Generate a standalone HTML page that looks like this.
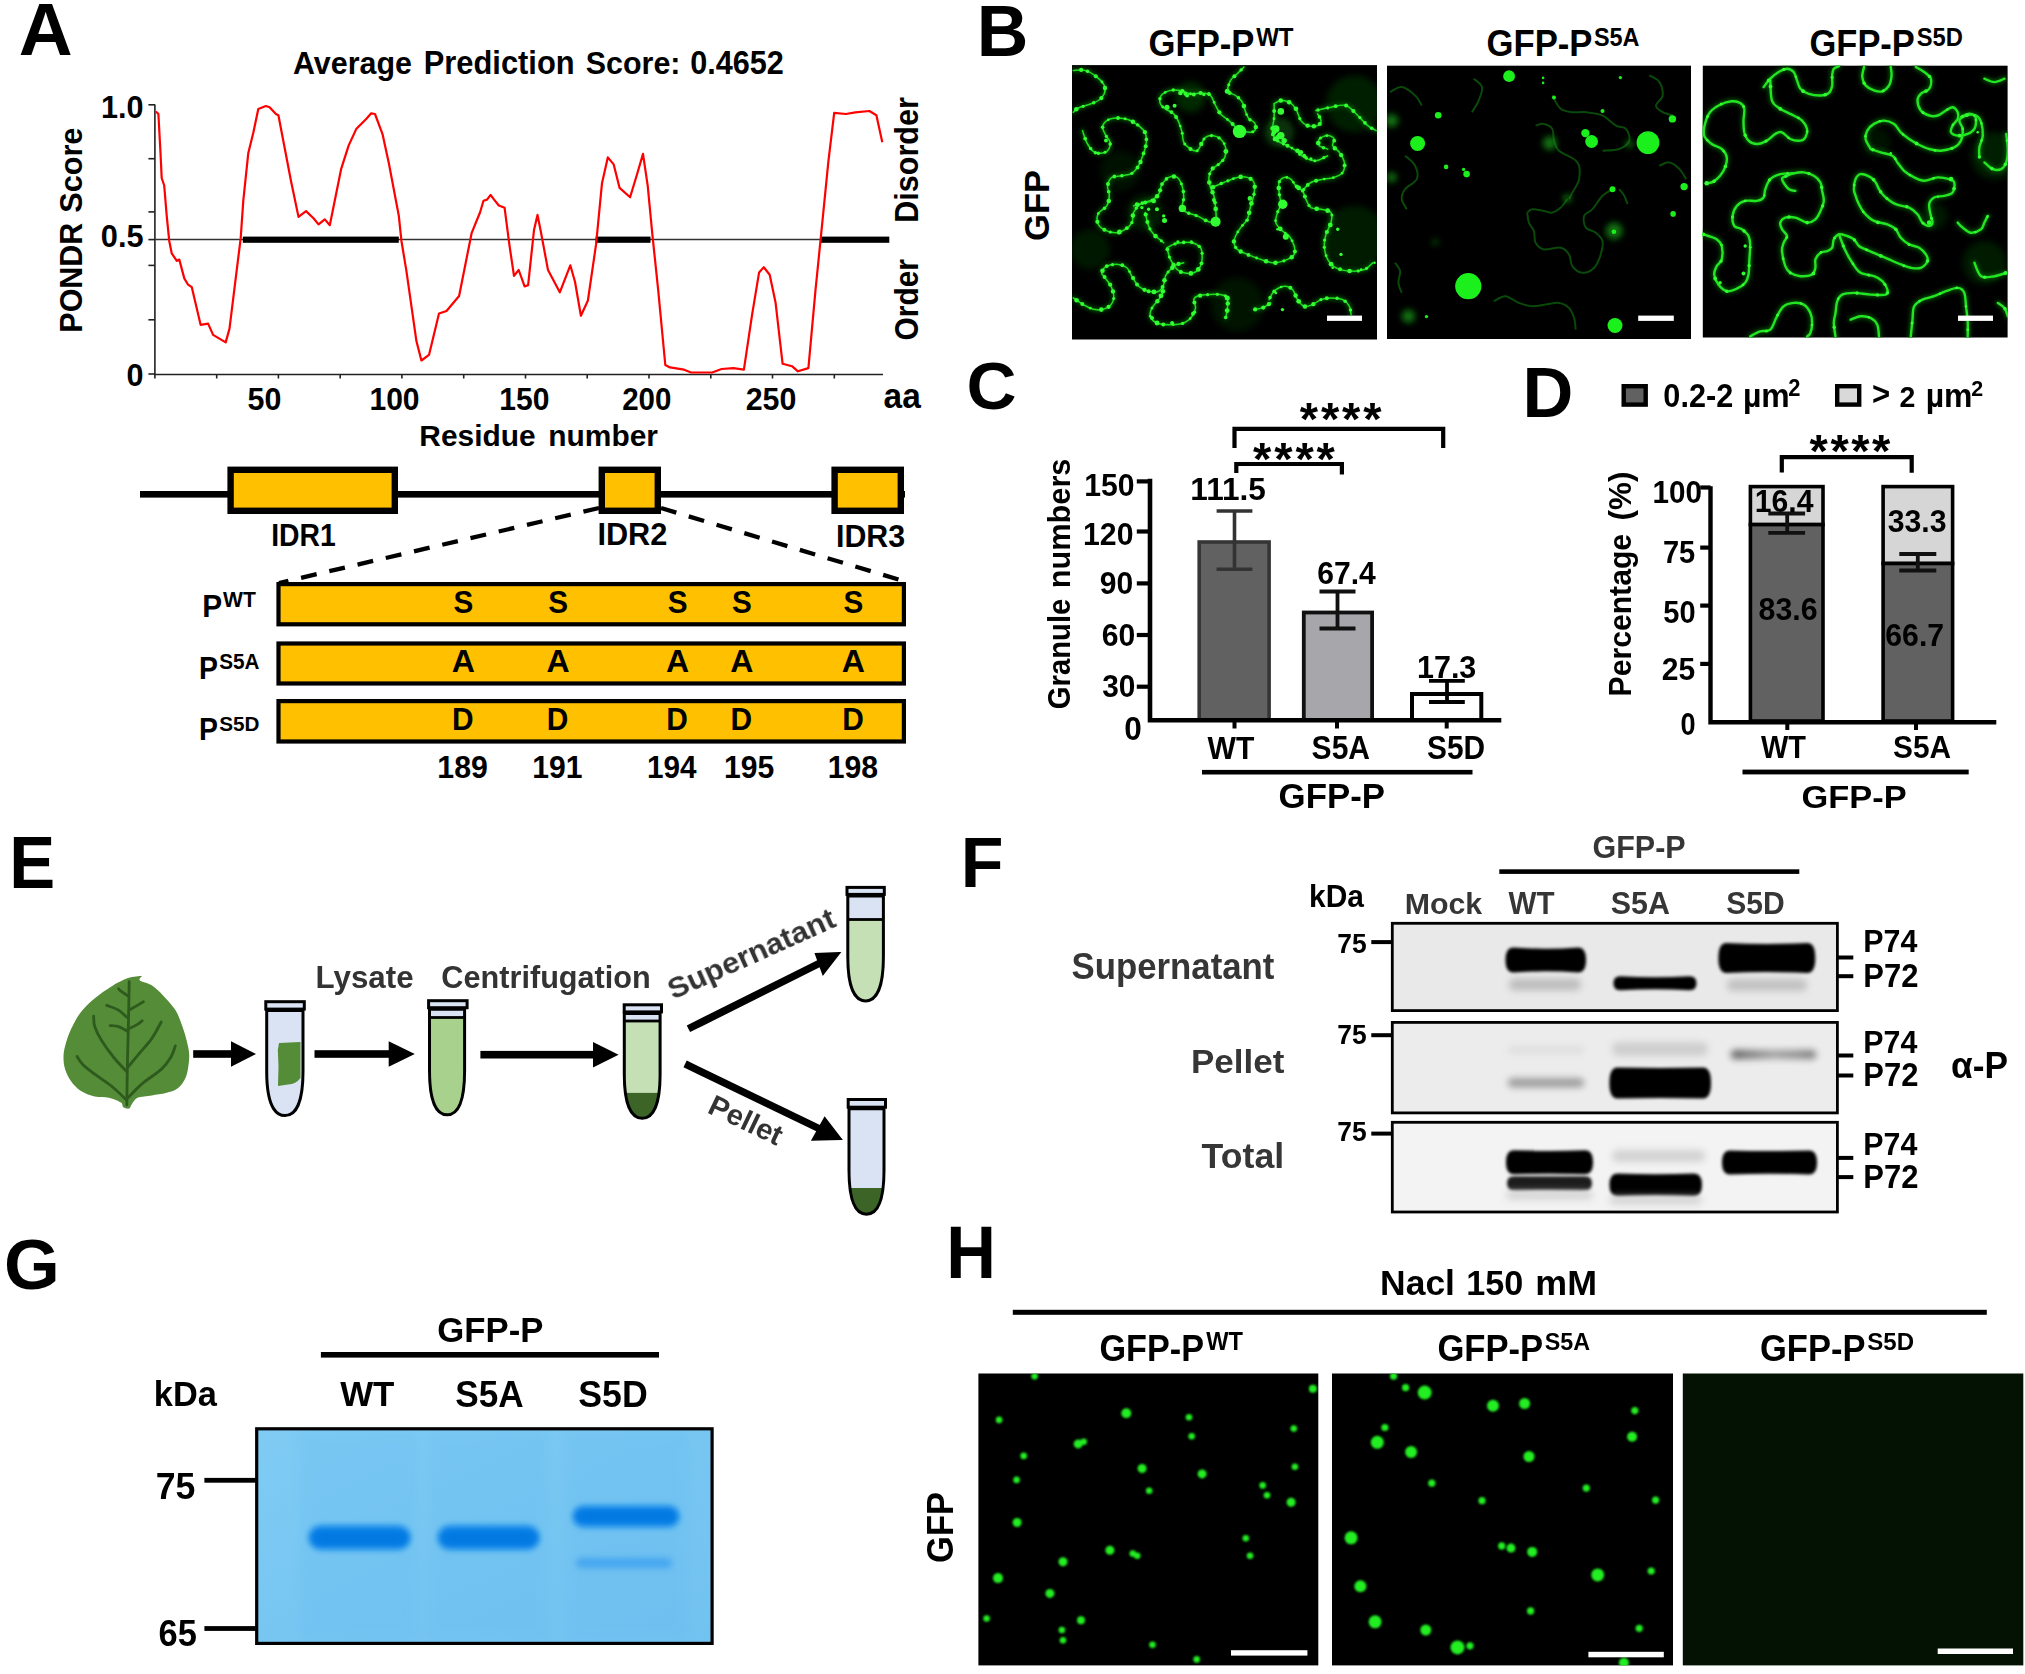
<!DOCTYPE html>
<html><head><meta charset="utf-8"><style>
html,body{margin:0;padding:0;background:#fff;}
body{width:2025px;height:1674px;overflow:hidden;}
svg{display:block;}
svg text{font-family:"Liberation Sans",sans-serif;}
</style></head><body>
<svg width="2025" height="1674" viewBox="0 0 2025 1674">
<rect width="2025" height="1674" fill="#fff"/>
<text x="18.83" y="55.00" font-size="74.20" font-weight="bold" fill="#000" textLength="53.89" lengthAdjust="spacingAndGlyphs">A</text>
<text x="293.04" y="74.00" font-size="32.24" font-weight="bold" fill="#000" textLength="118.92" lengthAdjust="spacingAndGlyphs">Average</text>
<text x="423.69" y="74.00" font-size="32.72" font-weight="bold" fill="#000" textLength="150.95" lengthAdjust="spacingAndGlyphs">Prediction</text>
<text x="585.79" y="74.00" font-size="32.24" font-weight="bold" fill="#000" textLength="94.68" lengthAdjust="spacingAndGlyphs">Score:</text>
<text x="690.17" y="74.00" font-size="32.48" font-weight="bold" fill="#000" textLength="93.71" lengthAdjust="spacingAndGlyphs">0.4652</text>
<text x="100.91" y="118.30" font-size="32.00" font-weight="bold" fill="#000" textLength="42.52" lengthAdjust="spacingAndGlyphs">1.0</text>
<text x="100.87" y="246.50" font-size="32.14" font-weight="bold" fill="#000" textLength="42.70" lengthAdjust="spacingAndGlyphs">0.5</text>
<text x="126.48" y="385.50" font-size="32.14" font-weight="bold" fill="#000" textLength="16.98" lengthAdjust="spacingAndGlyphs">0</text>
<text x="247.49" y="409.50" font-size="31.71" font-weight="bold" fill="#000" textLength="33.80" lengthAdjust="spacingAndGlyphs">50</text>
<text x="369.45" y="409.50" font-size="31.71" font-weight="bold" fill="#000" textLength="50.16" lengthAdjust="spacingAndGlyphs">100</text>
<text x="499.25" y="409.50" font-size="31.71" font-weight="bold" fill="#000" textLength="50.16" lengthAdjust="spacingAndGlyphs">150</text>
<text x="622.17" y="409.50" font-size="31.71" font-weight="bold" fill="#000" textLength="49.22" lengthAdjust="spacingAndGlyphs">200</text>
<text x="745.64" y="409.50" font-size="31.71" font-weight="bold" fill="#000" textLength="50.69" lengthAdjust="spacingAndGlyphs">250</text>
<text x="883.60" y="408.40" font-size="35.40" font-weight="bold" fill="#000" textLength="37.15" lengthAdjust="spacingAndGlyphs">aa</text>
<text x="419.36" y="445.60" font-size="30.21" font-weight="bold" fill="#000" textLength="116.19" lengthAdjust="spacingAndGlyphs">Residue</text>
<text x="548.26" y="445.60" font-size="30.21" font-weight="bold" fill="#000" textLength="109.70" lengthAdjust="spacingAndGlyphs">number</text>
<text transform="translate(82.10 330.70) rotate(-90)" x="-1.98" y="0" font-size="31.30" font-weight="bold" fill="#000" textLength="110.03" lengthAdjust="spacingAndGlyphs">PONDR</text>
<text transform="translate(82.10 211.90) rotate(-90)" x="-0.92" y="0" font-size="31.30" font-weight="bold" fill="#000" textLength="85.17" lengthAdjust="spacingAndGlyphs">Score</text>
<text transform="translate(918.20 220.70) rotate(-90)" x="-1.98" y="0" font-size="32.61" font-weight="bold" fill="#000" textLength="125.46" lengthAdjust="spacingAndGlyphs">Disorder</text>
<text transform="translate(918.20 339.20) rotate(-90)" x="-1.19" y="0" font-size="32.61" font-weight="bold" fill="#000" textLength="81.29" lengthAdjust="spacingAndGlyphs">Order</text>
<g stroke="#222" stroke-width="1.6" fill="none">
<path d="M154.9 104.5 V374.5 H883"/>
<path d="M148.4 104.8 H155"/>
<path d="M148.4 158.7 H155"/>
<path d="M148.4 211.9 H155"/>
<path d="M148.4 239.6 H155"/>
<path d="M148.4 265.4 H155"/>
<path d="M148.4 319.8 H155"/>
<path d="M148.4 374 H155"/>
<path d="M216.7 374 V378.5"/>
<path d="M278.4 374 V378.5"/>
<path d="M340.2 374 V378.5"/>
<path d="M401.9 374 V378.5"/>
<path d="M463.7 374 V378.5"/>
<path d="M525.5 374 V378.5"/>
<path d="M587.2 374 V378.5"/>
<path d="M649.0 374 V378.5"/>
<path d="M710.8 374 V378.5"/>
<path d="M772.5 374 V378.5"/>
<path d="M834.3 374 V378.5"/>
<path d="M154.9 374 V378.5"/>
</g>
<path d="M155 239.5 H888" stroke="#333" stroke-width="1.3"/>
<rect x="242.8" y="236.6" width="156.0" height="6.2" fill="#000"/>
<rect x="595.6" y="236.6" width="54.9" height="6.2" fill="#000"/>
<rect x="820.6" y="236.6" width="68.7" height="6.2" fill="#000"/>
<polyline fill="none" stroke="#ff0000" stroke-width="2.2" stroke-linejoin="round" points="155.9,111.5 158.4,114 160.5,153 161.7,178 164.2,185.5 166.7,215.7 169.2,240.7 171.7,253.3 176.8,260.8 179.3,259.6 184.3,278.4 188.1,284.7 191.8,287.2 200.6,324.8 208.1,323.6 213.1,334.9 225.7,342.4 229.5,328.6 235.7,278.4 240.7,238.2 243.3,200.6 248.3,152.9 253.3,132.8 258.3,109 265.8,106 269.6,107.3 275.9,114 278.4,115.3 290.9,180.5 298.5,216.9 306,211.1 313.5,218.2 318.5,224.4 324.8,219.4 329.8,225.2 341.1,169.2 348.7,145.4 356.2,129.1 366.2,119 371.2,113.3 375,114 382.5,134.1 388.8,163 398.8,215.7 401.4,240.7 406.4,270.9 416.4,341.1 421.4,360.5 429,354.9 439,313.5 446.5,311 459.1,296 471.6,233.2 480,212.5 483.5,200.8 487,199.6 490.6,195 494.1,199.6 498.8,205.5 504.6,207.8 509.3,244.2 514,275.9 518.7,270 524.6,286.4 528.1,285.3 534,230.1 537.5,214.9 541,232.5 548,270 559.8,292.3 570.3,265.3 575,281.7 580.9,315.7 587.9,300.5 596.1,244.2 602,183.2 607.8,157.4 613.7,164.4 619.6,187.9 630.1,197.3 637.2,173.8 643,153.9 647.7,185.6 652.4,234.8 658.3,291.1 665.3,365 670,367.4 684.1,369.7 691.1,372.5 712.2,372.5 721.6,369 733.3,368.1 743.9,369.7 752.1,314.6 759.1,272.4 763.8,267.2 769.7,274.7 775.6,302.8 782.6,363.8 792,366.2 797.9,371.3 808.4,368.1 815.4,291.1 822.5,220.7 828.3,162.1 834.2,112.8 845.9,114 855.3,112.4 869.4,111 876.4,115.2 882.3,142.2"/>
<rect x="140" y="491" width="765" height="6.6" fill="#000"/>
<rect x="230.6" y="469.8" width="164.2" height="41.0" fill="#FFC000" stroke="#000" stroke-width="6.4"/>
<rect x="601.8" y="469.8" width="56.0" height="41.0" fill="#FFC000" stroke="#000" stroke-width="6.4"/>
<rect x="834.6" y="469.8" width="66.2" height="41.0" fill="#FFC000" stroke="#000" stroke-width="6.4"/>
<text x="271.26" y="545.80" font-size="31.45" font-weight="bold" fill="#000" textLength="64.54" lengthAdjust="spacingAndGlyphs">IDR1</text>
<text x="597.41" y="545.40" font-size="31.00" font-weight="bold" fill="#000" textLength="69.93" lengthAdjust="spacingAndGlyphs">IDR2</text>
<text x="836.03" y="547.00" font-size="31.00" font-weight="bold" fill="#000" textLength="69.14" lengthAdjust="spacingAndGlyphs">IDR3</text>
<path d="M599 508 L279 583 M661 508 L900 580" stroke="#000" stroke-width="4.3" stroke-dasharray="16 13" fill="none"/>
<rect x="278.5" y="584.1" width="625.4" height="40.2" fill="#FFC000" stroke="#000" stroke-width="4.2"/>
<rect x="278.5" y="643.5" width="625.4" height="40.0" fill="#FFC000" stroke="#000" stroke-width="4.2"/>
<rect x="278.5" y="701.1" width="625.4" height="40.4" fill="#FFC000" stroke="#000" stroke-width="4.2"/>
<text x="202.36" y="616.90" font-size="31.74" font-weight="bold" fill="#000" textLength="19.89" lengthAdjust="spacingAndGlyphs">P</text>
<text x="223.10" y="606.90" font-size="21.59" font-weight="bold" fill="#000" textLength="32.80" lengthAdjust="spacingAndGlyphs">WT</text>
<text x="198.95" y="679.10" font-size="31.88" font-weight="bold" fill="#000" textLength="18.96" lengthAdjust="spacingAndGlyphs">P</text>
<text x="219.28" y="669.30" font-size="21.71" font-weight="bold" fill="#000" textLength="40.25" lengthAdjust="spacingAndGlyphs">S5A</text>
<text x="198.95" y="740.30" font-size="31.45" font-weight="bold" fill="#000" textLength="18.96" lengthAdjust="spacingAndGlyphs">P</text>
<text x="219.28" y="731.10" font-size="21.14" font-weight="bold" fill="#000" textLength="40.26" lengthAdjust="spacingAndGlyphs">S5D</text>
<text x="453.41" y="612.70" font-size="31.86" font-weight="bold" fill="#000" textLength="19.79" lengthAdjust="spacingAndGlyphs">S</text>
<text x="548.21" y="612.70" font-size="31.86" font-weight="bold" fill="#000" textLength="19.79" lengthAdjust="spacingAndGlyphs">S</text>
<text x="667.71" y="612.70" font-size="31.86" font-weight="bold" fill="#000" textLength="19.79" lengthAdjust="spacingAndGlyphs">S</text>
<text x="731.91" y="612.70" font-size="31.86" font-weight="bold" fill="#000" textLength="19.79" lengthAdjust="spacingAndGlyphs">S</text>
<text x="843.51" y="612.70" font-size="31.86" font-weight="bold" fill="#000" textLength="19.79" lengthAdjust="spacingAndGlyphs">S</text>
<text x="451.65" y="672.30" font-size="31.88" font-weight="bold" fill="#000" textLength="23.17" lengthAdjust="spacingAndGlyphs">A</text>
<text x="546.45" y="672.30" font-size="31.88" font-weight="bold" fill="#000" textLength="23.17" lengthAdjust="spacingAndGlyphs">A</text>
<text x="665.95" y="672.30" font-size="31.88" font-weight="bold" fill="#000" textLength="23.17" lengthAdjust="spacingAndGlyphs">A</text>
<text x="730.15" y="672.30" font-size="31.88" font-weight="bold" fill="#000" textLength="23.17" lengthAdjust="spacingAndGlyphs">A</text>
<text x="841.75" y="672.30" font-size="31.88" font-weight="bold" fill="#000" textLength="23.17" lengthAdjust="spacingAndGlyphs">A</text>
<text x="452.06" y="730.10" font-size="31.16" font-weight="bold" fill="#000" textLength="21.61" lengthAdjust="spacingAndGlyphs">D</text>
<text x="546.86" y="730.10" font-size="31.16" font-weight="bold" fill="#000" textLength="21.61" lengthAdjust="spacingAndGlyphs">D</text>
<text x="666.36" y="730.10" font-size="31.16" font-weight="bold" fill="#000" textLength="21.61" lengthAdjust="spacingAndGlyphs">D</text>
<text x="730.56" y="730.10" font-size="31.16" font-weight="bold" fill="#000" textLength="21.61" lengthAdjust="spacingAndGlyphs">D</text>
<text x="842.16" y="730.10" font-size="31.16" font-weight="bold" fill="#000" textLength="21.61" lengthAdjust="spacingAndGlyphs">D</text>
<text x="437.33" y="777.60" font-size="30.71" font-weight="bold" fill="#000" textLength="50.54" lengthAdjust="spacingAndGlyphs">189</text>
<text x="532.34" y="777.60" font-size="30.71" font-weight="bold" fill="#000" textLength="50.21" lengthAdjust="spacingAndGlyphs">191</text>
<text x="646.97" y="777.60" font-size="30.71" font-weight="bold" fill="#000" textLength="49.58" lengthAdjust="spacingAndGlyphs">194</text>
<text x="723.94" y="777.60" font-size="30.71" font-weight="bold" fill="#000" textLength="50.21" lengthAdjust="spacingAndGlyphs">195</text>
<text x="827.64" y="777.60" font-size="30.71" font-weight="bold" fill="#000" textLength="50.37" lengthAdjust="spacingAndGlyphs">198</text>
<text x="976.75" y="56.40" font-size="73.04" font-weight="bold" fill="#000" textLength="51.62" lengthAdjust="spacingAndGlyphs">B</text>
<text x="1148.61" y="56.40" font-size="36.57" font-weight="bold" fill="#000" textLength="105.85" lengthAdjust="spacingAndGlyphs">GFP-P</text>
<text x="1256.20" y="45.70" font-size="25.36" font-weight="bold" fill="#000" textLength="37.33" lengthAdjust="spacingAndGlyphs">WT</text>
<text x="1486.51" y="56.40" font-size="36.57" font-weight="bold" fill="#000" textLength="105.95" lengthAdjust="spacingAndGlyphs">GFP-P</text>
<text x="1593.90" y="45.70" font-size="25.00" font-weight="bold" fill="#000" textLength="45.50" lengthAdjust="spacingAndGlyphs">S5A</text>
<text x="1809.52" y="56.40" font-size="36.57" font-weight="bold" fill="#000" textLength="105.34" lengthAdjust="spacingAndGlyphs">GFP-P</text>
<text x="1916.79" y="45.60" font-size="25.00" font-weight="bold" fill="#000" textLength="46.17" lengthAdjust="spacingAndGlyphs">S5D</text>
<text transform="translate(1049.00 239.60) rotate(-90)" x="-1.38" y="0" font-size="35.94" font-weight="bold" fill="#000" textLength="71.04" lengthAdjust="spacingAndGlyphs">GFP</text>
<defs>
<filter id="glow" x="-20%" y="-20%" width="140%" height="140%"><feGaussianBlur stdDeviation="2.2"/></filter>
<filter id="glow2" x="-50%" y="-50%" width="200%" height="200%"><feGaussianBlur stdDeviation="0.6"/></filter>
<filter id="soft" x="-50%" y="-50%" width="200%" height="200%"><feGaussianBlur stdDeviation="3"/></filter>
<clipPath id="cb1"><rect x="1072" y="65.7" width="305" height="273.8"/></clipPath>
<clipPath id="cb2"><rect x="1387" y="65.7" width="304" height="273.3"/></clipPath>
<clipPath id="cb3"><rect x="1702.8" y="65.7" width="304.8" height="271.8"/></clipPath>
</defs>
<rect x="1072" y="65.1" width="305" height="274.4" fill="#000"/>
<g clip-path="url(#cb1)" filter="url(#soft)">
<circle cx="1354.4" cy="103.8" r="28.4" fill="#0c5a0c" opacity="0.35"/>
<circle cx="1354.4" cy="237.7" r="31.8" fill="#0c5a0c" opacity="0.3"/>
<circle cx="1279.1" cy="132.3" r="15.1" fill="#0c5a0c" opacity="0.55"/>
<circle cx="1190.5" cy="97.1" r="15.1" fill="#0c5a0c" opacity="0.45"/>
<circle cx="1090.1" cy="249.4" r="20.1" fill="#0c5a0c" opacity="0.25"/>
<circle cx="1145.3" cy="212.6" r="18.4" fill="#0c5a0c" opacity="0.3"/>
<circle cx="1237.3" cy="304.6" r="26.8" fill="#0c5a0c" opacity="0.22"/>
<circle cx="1120.2" cy="170.8" r="20.1" fill="#0c5a0c" opacity="0.18"/>
</g>
<g clip-path="url(#cb1)">
<g fill="none" stroke="#0b7a0b" stroke-width="4" stroke-linecap="round" stroke-linejoin="round" filter="url(#glow)" opacity="0.75">
<path d="M1073.3 70.4 C1075.3 70.4 1081.2 69.3 1085.1 70.4 C1089.0 71.5 1093.6 74.5 1096.8 77.1 C1100.0 79.6 1103.0 82.6 1104.3 85.4 C1105.6 88.2 1105.3 91.3 1104.3 93.8 C1103.3 96.3 1101.1 98.7 1098.4 100.5 C1095.8 102.3 1091.8 103.4 1088.4 104.7 C1085.1 105.9 1080.9 106.8 1078.4 108.0 C1075.9 109.3 1074.2 111.5 1073.3 112.2"/>
<path d="M1082.5 130.6 C1083.2 132.5 1084.9 138.8 1086.7 142.3 C1088.5 145.8 1091.2 149.7 1093.4 151.5 C1095.7 153.3 1097.7 153.3 1100.1 153.2 C1102.5 153.0 1106.0 152.5 1107.6 150.7 C1109.3 148.9 1110.4 144.8 1110.2 142.3 C1109.9 139.8 1107.2 138.1 1106.0 135.6 C1104.7 133.1 1102.5 129.8 1102.6 127.3 C1102.8 124.7 1104.4 122.1 1106.8 120.6 C1109.2 119.0 1113.2 118.2 1116.8 118.0 C1120.5 117.9 1124.9 118.5 1128.6 119.7 C1132.2 121.0 1135.8 123.3 1138.6 125.6 C1141.4 127.8 1144.0 130.0 1145.3 133.1 C1146.5 136.2 1146.5 140.2 1146.1 144.0 C1145.7 147.7 1144.0 152.1 1142.8 155.7 C1141.5 159.3 1140.4 162.8 1138.6 165.7 C1136.8 168.7 1134.7 171.6 1131.9 173.3 C1129.1 174.9 1125.2 175.1 1121.9 175.8 C1118.5 176.5 1114.2 175.8 1111.8 177.4 C1109.5 179.1 1108.1 182.7 1107.6 185.8 C1107.2 188.9 1109.5 192.5 1109.3 195.8 C1109.2 199.2 1108.6 203.0 1106.8 205.9 C1105.0 208.8 1100.0 210.6 1098.4 213.4 C1096.9 216.2 1096.8 220.0 1097.6 222.6 C1098.4 225.3 1100.5 227.6 1103.5 229.3 C1106.4 231.0 1111.5 232.7 1115.2 232.7 C1118.8 232.7 1122.4 231.0 1125.2 229.3 C1128.0 227.6 1130.5 225.4 1131.9 222.6 C1133.3 219.8 1132.2 215.6 1133.6 212.6 C1135.0 209.5 1137.2 206.3 1140.3 204.2 C1143.3 202.1 1148.9 201.7 1152.0 200.0 C1155.0 198.4 1157.0 196.8 1158.7 194.2 C1160.3 191.5 1160.3 186.9 1162.0 184.1 C1163.7 181.3 1166.2 178.6 1168.7 177.4 C1171.2 176.3 1174.8 176.0 1177.1 177.4 C1179.3 178.8 1181.0 182.5 1182.1 185.8 C1183.2 189.2 1183.8 193.9 1183.8 197.5 C1183.8 201.1 1181.5 205.0 1182.1 207.6 C1182.7 210.1 1184.6 211.2 1187.1 212.6 C1189.6 214.0 1193.5 214.4 1197.2 215.9 C1200.8 217.5 1205.8 220.7 1208.9 221.8 C1211.9 222.9 1214.4 222.5 1215.6 222.6"/>
<path d="M1239.0 130.6 C1238.1 129.8 1235.6 127.3 1234.0 125.6 C1232.3 123.9 1231.2 122.5 1228.9 120.6 C1226.7 118.6 1222.8 116.4 1220.6 113.9 C1218.3 111.4 1217.2 108.6 1215.6 105.5 C1213.9 102.4 1212.8 97.6 1210.5 95.5 C1208.3 93.4 1205.5 93.2 1202.2 93.0 C1198.8 92.7 1194.1 94.2 1190.5 93.8 C1186.8 93.4 1183.8 91.0 1180.4 90.4 C1177.1 89.9 1173.6 89.6 1170.4 90.4 C1167.2 91.3 1162.9 93.2 1161.2 95.5 C1159.5 97.7 1159.6 101.6 1160.3 103.8 C1161.0 106.1 1163.1 107.2 1165.4 108.8 C1167.6 110.5 1171.5 111.6 1173.7 113.9 C1176.0 116.1 1177.4 119.2 1178.8 122.2 C1180.1 125.3 1181.3 128.9 1182.1 132.3 C1182.9 135.6 1182.4 139.5 1183.8 142.3 C1185.2 145.1 1188.2 147.6 1190.5 149.0 C1192.7 150.4 1195.2 151.8 1197.2 150.7 C1199.1 149.6 1200.8 144.5 1202.2 142.3 C1203.6 140.1 1203.8 138.4 1205.5 137.3 C1207.2 136.2 1209.7 135.3 1212.2 135.6 C1214.7 135.9 1218.3 137.0 1220.6 139.0 C1222.8 140.9 1224.9 144.3 1225.6 147.3 C1226.3 150.4 1225.9 154.6 1224.8 157.4 C1223.6 160.2 1221.0 162.1 1218.9 164.1 C1216.8 166.0 1213.9 166.8 1212.2 169.1 C1210.5 171.3 1209.1 174.4 1208.9 177.4 C1208.6 180.5 1209.7 184.4 1210.5 187.5 C1211.4 190.5 1213.0 192.5 1213.9 195.8 C1214.7 199.2 1215.1 203.4 1215.6 207.6 C1216.0 211.7 1216.3 218.7 1216.4 220.9"/>
<path d="M1244.0 67.0 C1242.9 68.1 1239.5 71.5 1237.3 73.7 C1235.1 75.9 1232.1 77.5 1230.6 80.4 C1229.1 83.3 1227.3 88.8 1228.1 91.3 C1228.9 93.8 1233.3 93.6 1235.6 95.5 C1238.0 97.3 1240.7 99.4 1242.3 102.2 C1244.0 104.9 1244.6 109.4 1245.7 112.2 C1246.8 115.0 1247.6 117.2 1249.0 118.9 C1250.4 120.6 1252.9 120.6 1254.0 122.2 C1255.2 123.9 1256.3 127.3 1255.7 128.9 C1255.2 130.6 1253.2 132.0 1250.7 132.3 C1248.2 132.5 1242.3 130.9 1240.7 130.6"/>
<path d="M1212.2 187.5 C1214.2 186.6 1219.7 184.1 1223.9 182.5 C1228.1 180.8 1233.4 178.3 1237.3 177.4 C1241.2 176.6 1244.6 176.6 1247.3 177.4 C1250.1 178.3 1252.9 179.7 1254.0 182.5 C1255.2 185.3 1254.6 190.3 1254.0 194.2 C1253.5 198.1 1251.8 201.7 1250.7 205.9 C1249.6 210.1 1249.0 215.6 1247.3 219.3 C1245.7 222.9 1242.6 224.8 1240.7 227.6 C1238.7 230.4 1236.8 233.5 1235.6 236.0 C1234.5 238.5 1233.7 240.5 1234.0 242.7 C1234.2 244.9 1235.1 247.4 1237.3 249.4 C1239.5 251.3 1243.4 252.7 1247.3 254.4 C1251.3 256.1 1256.3 258.0 1260.7 259.4 C1265.2 260.8 1269.7 262.8 1274.1 262.8 C1278.6 262.8 1284.2 260.8 1287.5 259.4 C1290.8 258.0 1293.1 256.6 1294.2 254.4 C1295.3 252.2 1295.0 249.1 1294.2 246.0 C1293.4 243.0 1291.1 238.5 1289.2 236.0 C1287.2 233.5 1284.7 233.2 1282.5 231.0 C1280.3 228.8 1276.6 225.7 1275.8 222.6 C1275.0 219.5 1276.6 215.6 1277.5 212.6 C1278.3 209.5 1280.5 207.6 1280.8 204.2 C1281.1 200.9 1279.4 196.1 1279.1 192.5 C1278.9 188.9 1278.3 185.0 1279.1 182.5 C1280.0 180.0 1282.2 178.0 1284.2 177.4 C1286.1 176.9 1288.9 177.7 1290.8 179.1 C1292.8 180.5 1293.9 183.9 1295.9 185.8 C1297.8 187.8 1300.9 188.6 1302.6 190.8 C1304.2 193.1 1304.5 196.4 1305.9 199.2 C1307.3 202.0 1308.4 205.9 1310.9 207.6 C1313.4 209.2 1317.6 208.4 1321.0 209.2 C1324.3 210.1 1329.3 210.3 1331.0 212.6 C1332.7 214.8 1331.8 219.0 1331.0 222.6 C1330.2 226.2 1327.1 230.4 1326.0 234.3 C1324.9 238.2 1324.0 241.9 1324.3 246.0 C1324.6 250.2 1325.7 255.8 1327.7 259.4 C1329.6 263.0 1332.1 265.8 1336.0 267.8 C1339.9 269.7 1346.3 270.9 1351.1 271.1 C1355.8 271.4 1360.8 270.9 1364.5 269.5 C1368.1 268.1 1371.4 263.9 1372.8 262.8"/>
<path d="M1302.6 190.8 C1304.0 189.4 1307.3 184.4 1310.9 182.5 C1314.5 180.5 1320.4 180.0 1324.3 179.1 C1328.2 178.3 1331.3 178.6 1334.3 177.4 C1337.4 176.3 1341.0 174.9 1342.7 172.4 C1344.4 169.9 1344.9 165.7 1344.4 162.4 C1343.8 159.0 1341.3 155.1 1339.4 152.3 C1337.4 149.6 1333.5 147.9 1332.7 145.7 C1331.8 143.4 1335.2 140.6 1334.3 139.0 C1333.5 137.3 1330.2 135.6 1327.7 135.6 C1325.1 135.6 1320.7 137.3 1319.3 139.0 C1317.9 140.6 1317.9 144.0 1319.3 145.7 C1320.7 147.3 1326.3 148.4 1327.7 149.0"/>
<path d="M1274.1 103.8 C1275.2 103.3 1278.3 100.8 1280.8 100.5 C1283.3 100.2 1286.7 100.8 1289.2 102.2 C1291.7 103.5 1293.9 105.8 1295.9 108.8 C1297.8 111.9 1298.9 117.8 1300.9 120.6 C1302.8 123.3 1304.8 124.7 1307.6 125.6 C1310.4 126.4 1315.4 126.4 1317.6 125.6 C1319.8 124.7 1321.0 122.5 1321.0 120.6 C1321.0 118.6 1318.2 115.0 1317.6 113.9"/>
<path d="M1274.1 103.8 C1274.1 106.1 1274.4 112.5 1274.1 117.2 C1273.8 122.0 1271.9 128.4 1272.4 132.3 C1273.0 136.2 1275.0 138.4 1277.5 140.6 C1280.0 142.9 1284.4 144.0 1287.5 145.7 C1290.6 147.3 1293.1 148.7 1295.9 150.7 C1298.7 152.6 1300.9 155.7 1304.2 157.4 C1307.6 159.0 1312.0 161.0 1315.9 160.7 C1319.8 160.4 1325.7 156.5 1327.7 155.7"/>
<path d="M1315.9 110.5 C1318.5 110.0 1326.0 108.0 1331.0 107.2 C1336.0 106.3 1341.6 104.1 1346.1 105.5 C1350.5 106.9 1354.1 112.2 1357.8 115.5 C1361.4 118.9 1364.7 123.1 1367.8 125.6 C1370.9 128.1 1374.8 129.8 1376.2 130.6"/>
<path d="M1073.3 297.9 C1075.0 299.0 1079.8 302.6 1083.4 304.6 C1087.0 306.5 1091.2 309.1 1095.1 309.6 C1099.0 310.2 1103.7 309.6 1106.8 307.9 C1109.9 306.3 1112.7 302.9 1113.5 299.6 C1114.3 296.2 1113.2 291.5 1111.8 287.9 C1110.4 284.2 1106.8 280.3 1105.1 277.8 C1103.5 275.3 1101.5 274.8 1101.8 272.8 C1102.1 270.9 1104.0 267.5 1106.8 266.1 C1109.6 264.7 1115.2 264.2 1118.5 264.4 C1121.9 264.7 1124.7 265.8 1126.9 267.8 C1129.1 269.7 1130.0 273.1 1131.9 276.2 C1133.9 279.2 1135.8 283.7 1138.6 286.2 C1141.4 288.7 1145.3 290.4 1148.6 291.2 C1152.0 292.0 1156.2 292.3 1158.7 291.2 C1161.2 290.1 1162.6 287.0 1163.7 284.5 C1164.8 282.0 1164.3 278.7 1165.4 276.2 C1166.5 273.6 1168.4 271.4 1170.4 269.5 C1172.3 267.5 1174.8 265.6 1177.1 264.4 C1179.3 263.3 1182.7 263.0 1183.8 262.8"/>
<path d="M1163.7 291.2 C1162.9 292.6 1160.6 296.8 1158.7 299.6 C1156.7 302.4 1153.4 305.2 1152.0 307.9 C1150.6 310.7 1149.5 313.8 1150.3 316.3 C1151.1 318.8 1153.7 321.6 1157.0 323.0 C1160.3 324.4 1165.9 324.7 1170.4 324.7 C1174.8 324.7 1180.1 324.4 1183.8 323.0 C1187.4 321.6 1190.2 318.8 1192.1 316.3 C1194.1 313.8 1195.2 310.7 1195.5 307.9 C1195.8 305.2 1193.5 301.5 1193.8 299.6 C1194.1 297.6 1194.6 297.1 1197.2 296.2 C1199.7 295.4 1205.0 294.8 1208.9 294.6 C1212.8 294.3 1217.5 294.0 1220.6 294.6 C1223.6 295.1 1226.2 295.4 1227.3 297.9 C1228.4 300.4 1227.5 306.3 1227.3 309.6 C1227.0 313.0 1225.9 316.6 1225.6 318.0"/>
<path d="M1167.0 247.7 C1167.6 249.7 1168.7 255.8 1170.4 259.4 C1172.1 263.0 1174.8 267.2 1177.1 269.5 C1179.3 271.7 1181.0 272.3 1183.8 272.8 C1186.6 273.4 1191.0 273.9 1193.8 272.8 C1196.6 271.7 1199.1 268.9 1200.5 266.1 C1201.9 263.3 1202.2 259.1 1202.2 256.1 C1202.2 253.0 1202.2 249.9 1200.5 247.7 C1198.8 245.5 1195.5 243.5 1192.1 242.7 C1188.8 241.9 1183.5 242.4 1180.4 242.7 C1177.4 243.0 1176.0 243.5 1173.7 244.4 C1171.5 245.2 1168.2 247.2 1167.0 247.7"/>
<path d="M1269.1 299.6 C1269.9 298.2 1271.6 293.4 1274.1 291.2 C1276.6 289.0 1281.1 286.5 1284.2 286.2 C1287.2 285.9 1290.3 287.3 1292.5 289.5 C1294.8 291.8 1295.6 296.8 1297.5 299.6 C1299.5 302.4 1301.7 305.4 1304.2 306.3 C1306.7 307.1 1309.8 305.7 1312.6 304.6 C1315.4 303.5 1317.9 300.7 1321.0 299.6 C1324.0 298.5 1327.4 297.9 1331.0 297.9 C1334.6 297.9 1339.6 298.2 1342.7 299.6 C1345.8 301.0 1348.0 303.8 1349.4 306.3 C1350.8 308.8 1350.8 313.2 1351.1 314.6"/>
<path d="M1254.0 309.6 C1255.4 309.3 1259.6 309.1 1262.4 307.9 C1265.2 306.8 1269.4 303.8 1270.8 302.9"/>
<path d="M1133.6 205.9 C1135.5 205.3 1141.9 203.4 1145.3 202.5 C1148.6 201.7 1152.3 201.1 1153.7 200.9"/>
<path d="M1145.3 212.6 C1145.8 214.8 1147.2 222.3 1148.6 226.0 C1150.0 229.6 1151.1 231.5 1153.7 234.3 C1156.2 237.1 1162.0 241.3 1163.7 242.7"/>
</g>
<g fill="none" stroke="#1ee01e" stroke-width="1.5" stroke-linecap="round" stroke-linejoin="round" filter="url(#glow2)">
<path d="M1073.3 70.4 C1075.3 70.4 1081.2 69.3 1085.1 70.4 C1089.0 71.5 1093.6 74.5 1096.8 77.1 C1100.0 79.6 1103.0 82.6 1104.3 85.4 C1105.6 88.2 1105.3 91.3 1104.3 93.8 C1103.3 96.3 1101.1 98.7 1098.4 100.5 C1095.8 102.3 1091.8 103.4 1088.4 104.7 C1085.1 105.9 1080.9 106.8 1078.4 108.0 C1075.9 109.3 1074.2 111.5 1073.3 112.2"/>
<path d="M1082.5 130.6 C1083.2 132.5 1084.9 138.8 1086.7 142.3 C1088.5 145.8 1091.2 149.7 1093.4 151.5 C1095.7 153.3 1097.7 153.3 1100.1 153.2 C1102.5 153.0 1106.0 152.5 1107.6 150.7 C1109.3 148.9 1110.4 144.8 1110.2 142.3 C1109.9 139.8 1107.2 138.1 1106.0 135.6 C1104.7 133.1 1102.5 129.8 1102.6 127.3 C1102.8 124.7 1104.4 122.1 1106.8 120.6 C1109.2 119.0 1113.2 118.2 1116.8 118.0 C1120.5 117.9 1124.9 118.5 1128.6 119.7 C1132.2 121.0 1135.8 123.3 1138.6 125.6 C1141.4 127.8 1144.0 130.0 1145.3 133.1 C1146.5 136.2 1146.5 140.2 1146.1 144.0 C1145.7 147.7 1144.0 152.1 1142.8 155.7 C1141.5 159.3 1140.4 162.8 1138.6 165.7 C1136.8 168.7 1134.7 171.6 1131.9 173.3 C1129.1 174.9 1125.2 175.1 1121.9 175.8 C1118.5 176.5 1114.2 175.8 1111.8 177.4 C1109.5 179.1 1108.1 182.7 1107.6 185.8 C1107.2 188.9 1109.5 192.5 1109.3 195.8 C1109.2 199.2 1108.6 203.0 1106.8 205.9 C1105.0 208.8 1100.0 210.6 1098.4 213.4 C1096.9 216.2 1096.8 220.0 1097.6 222.6 C1098.4 225.3 1100.5 227.6 1103.5 229.3 C1106.4 231.0 1111.5 232.7 1115.2 232.7 C1118.8 232.7 1122.4 231.0 1125.2 229.3 C1128.0 227.6 1130.5 225.4 1131.9 222.6 C1133.3 219.8 1132.2 215.6 1133.6 212.6 C1135.0 209.5 1137.2 206.3 1140.3 204.2 C1143.3 202.1 1148.9 201.7 1152.0 200.0 C1155.0 198.4 1157.0 196.8 1158.7 194.2 C1160.3 191.5 1160.3 186.9 1162.0 184.1 C1163.7 181.3 1166.2 178.6 1168.7 177.4 C1171.2 176.3 1174.8 176.0 1177.1 177.4 C1179.3 178.8 1181.0 182.5 1182.1 185.8 C1183.2 189.2 1183.8 193.9 1183.8 197.5 C1183.8 201.1 1181.5 205.0 1182.1 207.6 C1182.7 210.1 1184.6 211.2 1187.1 212.6 C1189.6 214.0 1193.5 214.4 1197.2 215.9 C1200.8 217.5 1205.8 220.7 1208.9 221.8 C1211.9 222.9 1214.4 222.5 1215.6 222.6"/>
<path d="M1239.0 130.6 C1238.1 129.8 1235.6 127.3 1234.0 125.6 C1232.3 123.9 1231.2 122.5 1228.9 120.6 C1226.7 118.6 1222.8 116.4 1220.6 113.9 C1218.3 111.4 1217.2 108.6 1215.6 105.5 C1213.9 102.4 1212.8 97.6 1210.5 95.5 C1208.3 93.4 1205.5 93.2 1202.2 93.0 C1198.8 92.7 1194.1 94.2 1190.5 93.8 C1186.8 93.4 1183.8 91.0 1180.4 90.4 C1177.1 89.9 1173.6 89.6 1170.4 90.4 C1167.2 91.3 1162.9 93.2 1161.2 95.5 C1159.5 97.7 1159.6 101.6 1160.3 103.8 C1161.0 106.1 1163.1 107.2 1165.4 108.8 C1167.6 110.5 1171.5 111.6 1173.7 113.9 C1176.0 116.1 1177.4 119.2 1178.8 122.2 C1180.1 125.3 1181.3 128.9 1182.1 132.3 C1182.9 135.6 1182.4 139.5 1183.8 142.3 C1185.2 145.1 1188.2 147.6 1190.5 149.0 C1192.7 150.4 1195.2 151.8 1197.2 150.7 C1199.1 149.6 1200.8 144.5 1202.2 142.3 C1203.6 140.1 1203.8 138.4 1205.5 137.3 C1207.2 136.2 1209.7 135.3 1212.2 135.6 C1214.7 135.9 1218.3 137.0 1220.6 139.0 C1222.8 140.9 1224.9 144.3 1225.6 147.3 C1226.3 150.4 1225.9 154.6 1224.8 157.4 C1223.6 160.2 1221.0 162.1 1218.9 164.1 C1216.8 166.0 1213.9 166.8 1212.2 169.1 C1210.5 171.3 1209.1 174.4 1208.9 177.4 C1208.6 180.5 1209.7 184.4 1210.5 187.5 C1211.4 190.5 1213.0 192.5 1213.9 195.8 C1214.7 199.2 1215.1 203.4 1215.6 207.6 C1216.0 211.7 1216.3 218.7 1216.4 220.9"/>
<path d="M1244.0 67.0 C1242.9 68.1 1239.5 71.5 1237.3 73.7 C1235.1 75.9 1232.1 77.5 1230.6 80.4 C1229.1 83.3 1227.3 88.8 1228.1 91.3 C1228.9 93.8 1233.3 93.6 1235.6 95.5 C1238.0 97.3 1240.7 99.4 1242.3 102.2 C1244.0 104.9 1244.6 109.4 1245.7 112.2 C1246.8 115.0 1247.6 117.2 1249.0 118.9 C1250.4 120.6 1252.9 120.6 1254.0 122.2 C1255.2 123.9 1256.3 127.3 1255.7 128.9 C1255.2 130.6 1253.2 132.0 1250.7 132.3 C1248.2 132.5 1242.3 130.9 1240.7 130.6"/>
<path d="M1212.2 187.5 C1214.2 186.6 1219.7 184.1 1223.9 182.5 C1228.1 180.8 1233.4 178.3 1237.3 177.4 C1241.2 176.6 1244.6 176.6 1247.3 177.4 C1250.1 178.3 1252.9 179.7 1254.0 182.5 C1255.2 185.3 1254.6 190.3 1254.0 194.2 C1253.5 198.1 1251.8 201.7 1250.7 205.9 C1249.6 210.1 1249.0 215.6 1247.3 219.3 C1245.7 222.9 1242.6 224.8 1240.7 227.6 C1238.7 230.4 1236.8 233.5 1235.6 236.0 C1234.5 238.5 1233.7 240.5 1234.0 242.7 C1234.2 244.9 1235.1 247.4 1237.3 249.4 C1239.5 251.3 1243.4 252.7 1247.3 254.4 C1251.3 256.1 1256.3 258.0 1260.7 259.4 C1265.2 260.8 1269.7 262.8 1274.1 262.8 C1278.6 262.8 1284.2 260.8 1287.5 259.4 C1290.8 258.0 1293.1 256.6 1294.2 254.4 C1295.3 252.2 1295.0 249.1 1294.2 246.0 C1293.4 243.0 1291.1 238.5 1289.2 236.0 C1287.2 233.5 1284.7 233.2 1282.5 231.0 C1280.3 228.8 1276.6 225.7 1275.8 222.6 C1275.0 219.5 1276.6 215.6 1277.5 212.6 C1278.3 209.5 1280.5 207.6 1280.8 204.2 C1281.1 200.9 1279.4 196.1 1279.1 192.5 C1278.9 188.9 1278.3 185.0 1279.1 182.5 C1280.0 180.0 1282.2 178.0 1284.2 177.4 C1286.1 176.9 1288.9 177.7 1290.8 179.1 C1292.8 180.5 1293.9 183.9 1295.9 185.8 C1297.8 187.8 1300.9 188.6 1302.6 190.8 C1304.2 193.1 1304.5 196.4 1305.9 199.2 C1307.3 202.0 1308.4 205.9 1310.9 207.6 C1313.4 209.2 1317.6 208.4 1321.0 209.2 C1324.3 210.1 1329.3 210.3 1331.0 212.6 C1332.7 214.8 1331.8 219.0 1331.0 222.6 C1330.2 226.2 1327.1 230.4 1326.0 234.3 C1324.9 238.2 1324.0 241.9 1324.3 246.0 C1324.6 250.2 1325.7 255.8 1327.7 259.4 C1329.6 263.0 1332.1 265.8 1336.0 267.8 C1339.9 269.7 1346.3 270.9 1351.1 271.1 C1355.8 271.4 1360.8 270.9 1364.5 269.5 C1368.1 268.1 1371.4 263.9 1372.8 262.8"/>
<path d="M1302.6 190.8 C1304.0 189.4 1307.3 184.4 1310.9 182.5 C1314.5 180.5 1320.4 180.0 1324.3 179.1 C1328.2 178.3 1331.3 178.6 1334.3 177.4 C1337.4 176.3 1341.0 174.9 1342.7 172.4 C1344.4 169.9 1344.9 165.7 1344.4 162.4 C1343.8 159.0 1341.3 155.1 1339.4 152.3 C1337.4 149.6 1333.5 147.9 1332.7 145.7 C1331.8 143.4 1335.2 140.6 1334.3 139.0 C1333.5 137.3 1330.2 135.6 1327.7 135.6 C1325.1 135.6 1320.7 137.3 1319.3 139.0 C1317.9 140.6 1317.9 144.0 1319.3 145.7 C1320.7 147.3 1326.3 148.4 1327.7 149.0"/>
<path d="M1274.1 103.8 C1275.2 103.3 1278.3 100.8 1280.8 100.5 C1283.3 100.2 1286.7 100.8 1289.2 102.2 C1291.7 103.5 1293.9 105.8 1295.9 108.8 C1297.8 111.9 1298.9 117.8 1300.9 120.6 C1302.8 123.3 1304.8 124.7 1307.6 125.6 C1310.4 126.4 1315.4 126.4 1317.6 125.6 C1319.8 124.7 1321.0 122.5 1321.0 120.6 C1321.0 118.6 1318.2 115.0 1317.6 113.9"/>
<path d="M1274.1 103.8 C1274.1 106.1 1274.4 112.5 1274.1 117.2 C1273.8 122.0 1271.9 128.4 1272.4 132.3 C1273.0 136.2 1275.0 138.4 1277.5 140.6 C1280.0 142.9 1284.4 144.0 1287.5 145.7 C1290.6 147.3 1293.1 148.7 1295.9 150.7 C1298.7 152.6 1300.9 155.7 1304.2 157.4 C1307.6 159.0 1312.0 161.0 1315.9 160.7 C1319.8 160.4 1325.7 156.5 1327.7 155.7"/>
<path d="M1315.9 110.5 C1318.5 110.0 1326.0 108.0 1331.0 107.2 C1336.0 106.3 1341.6 104.1 1346.1 105.5 C1350.5 106.9 1354.1 112.2 1357.8 115.5 C1361.4 118.9 1364.7 123.1 1367.8 125.6 C1370.9 128.1 1374.8 129.8 1376.2 130.6"/>
<path d="M1073.3 297.9 C1075.0 299.0 1079.8 302.6 1083.4 304.6 C1087.0 306.5 1091.2 309.1 1095.1 309.6 C1099.0 310.2 1103.7 309.6 1106.8 307.9 C1109.9 306.3 1112.7 302.9 1113.5 299.6 C1114.3 296.2 1113.2 291.5 1111.8 287.9 C1110.4 284.2 1106.8 280.3 1105.1 277.8 C1103.5 275.3 1101.5 274.8 1101.8 272.8 C1102.1 270.9 1104.0 267.5 1106.8 266.1 C1109.6 264.7 1115.2 264.2 1118.5 264.4 C1121.9 264.7 1124.7 265.8 1126.9 267.8 C1129.1 269.7 1130.0 273.1 1131.9 276.2 C1133.9 279.2 1135.8 283.7 1138.6 286.2 C1141.4 288.7 1145.3 290.4 1148.6 291.2 C1152.0 292.0 1156.2 292.3 1158.7 291.2 C1161.2 290.1 1162.6 287.0 1163.7 284.5 C1164.8 282.0 1164.3 278.7 1165.4 276.2 C1166.5 273.6 1168.4 271.4 1170.4 269.5 C1172.3 267.5 1174.8 265.6 1177.1 264.4 C1179.3 263.3 1182.7 263.0 1183.8 262.8"/>
<path d="M1163.7 291.2 C1162.9 292.6 1160.6 296.8 1158.7 299.6 C1156.7 302.4 1153.4 305.2 1152.0 307.9 C1150.6 310.7 1149.5 313.8 1150.3 316.3 C1151.1 318.8 1153.7 321.6 1157.0 323.0 C1160.3 324.4 1165.9 324.7 1170.4 324.7 C1174.8 324.7 1180.1 324.4 1183.8 323.0 C1187.4 321.6 1190.2 318.8 1192.1 316.3 C1194.1 313.8 1195.2 310.7 1195.5 307.9 C1195.8 305.2 1193.5 301.5 1193.8 299.6 C1194.1 297.6 1194.6 297.1 1197.2 296.2 C1199.7 295.4 1205.0 294.8 1208.9 294.6 C1212.8 294.3 1217.5 294.0 1220.6 294.6 C1223.6 295.1 1226.2 295.4 1227.3 297.9 C1228.4 300.4 1227.5 306.3 1227.3 309.6 C1227.0 313.0 1225.9 316.6 1225.6 318.0"/>
<path d="M1167.0 247.7 C1167.6 249.7 1168.7 255.8 1170.4 259.4 C1172.1 263.0 1174.8 267.2 1177.1 269.5 C1179.3 271.7 1181.0 272.3 1183.8 272.8 C1186.6 273.4 1191.0 273.9 1193.8 272.8 C1196.6 271.7 1199.1 268.9 1200.5 266.1 C1201.9 263.3 1202.2 259.1 1202.2 256.1 C1202.2 253.0 1202.2 249.9 1200.5 247.7 C1198.8 245.5 1195.5 243.5 1192.1 242.7 C1188.8 241.9 1183.5 242.4 1180.4 242.7 C1177.4 243.0 1176.0 243.5 1173.7 244.4 C1171.5 245.2 1168.2 247.2 1167.0 247.7"/>
<path d="M1269.1 299.6 C1269.9 298.2 1271.6 293.4 1274.1 291.2 C1276.6 289.0 1281.1 286.5 1284.2 286.2 C1287.2 285.9 1290.3 287.3 1292.5 289.5 C1294.8 291.8 1295.6 296.8 1297.5 299.6 C1299.5 302.4 1301.7 305.4 1304.2 306.3 C1306.7 307.1 1309.8 305.7 1312.6 304.6 C1315.4 303.5 1317.9 300.7 1321.0 299.6 C1324.0 298.5 1327.4 297.9 1331.0 297.9 C1334.6 297.9 1339.6 298.2 1342.7 299.6 C1345.8 301.0 1348.0 303.8 1349.4 306.3 C1350.8 308.8 1350.8 313.2 1351.1 314.6"/>
<path d="M1254.0 309.6 C1255.4 309.3 1259.6 309.1 1262.4 307.9 C1265.2 306.8 1269.4 303.8 1270.8 302.9"/>
<path d="M1133.6 205.9 C1135.5 205.3 1141.9 203.4 1145.3 202.5 C1148.6 201.7 1152.3 201.1 1153.7 200.9"/>
<path d="M1145.3 212.6 C1145.8 214.8 1147.2 222.3 1148.6 226.0 C1150.0 229.6 1151.1 231.5 1153.7 234.3 C1156.2 237.1 1162.0 241.3 1163.7 242.7"/>
</g>
<g fill="#33ff33" filter="url(#glow2)">
<circle cx="1081.2" cy="69.9" r="2.1"/>
<circle cx="1087.5" cy="71.2" r="1.8"/>
<circle cx="1095.8" cy="76.3" r="2.0"/>
<circle cx="1102.0" cy="82.0" r="1.4"/>
<circle cx="1105.0" cy="88.0" r="2.2"/>
<circle cx="1101.4" cy="98.1" r="2.1"/>
<circle cx="1093.7" cy="102.8" r="1.8"/>
<circle cx="1083.1" cy="106.3" r="1.6"/>
<circle cx="1076.3" cy="109.3" r="2.3"/>
<circle cx="1085.2" cy="138.6" r="1.9"/>
<circle cx="1090.6" cy="148.5" r="1.7"/>
<circle cx="1095.4" cy="152.7" r="1.8"/>
<circle cx="1105.0" cy="152.3" r="1.5"/>
<circle cx="1110.2" cy="144.0" r="1.8"/>
<circle cx="1106.4" cy="136.3" r="1.6"/>
<circle cx="1102.6" cy="127.3" r="1.8"/>
<circle cx="1108.4" cy="119.7" r="1.3"/>
<circle cx="1118.0" cy="118.0" r="1.9"/>
<circle cx="1125.1" cy="118.8" r="1.5"/>
<circle cx="1132.9" cy="121.7" r="2.2"/>
<circle cx="1137.7" cy="124.9" r="1.7"/>
<circle cx="1144.9" cy="132.2" r="2.1"/>
<circle cx="1146.4" cy="139.4" r="1.8"/>
<circle cx="1145.7" cy="146.3" r="2.0"/>
<circle cx="1143.6" cy="153.4" r="1.9"/>
<circle cx="1140.5" cy="162.0" r="2.2"/>
<circle cx="1137.5" cy="167.5" r="1.9"/>
<circle cx="1131.9" cy="173.3" r="1.6"/>
<circle cx="1121.9" cy="175.8" r="1.8"/>
<circle cx="1114.4" cy="176.5" r="1.9"/>
<circle cx="1108.0" cy="183.9" r="2.0"/>
<circle cx="1108.7" cy="191.8" r="1.8"/>
<circle cx="1108.7" cy="201.0" r="2.2"/>
<circle cx="1104.5" cy="208.3" r="1.7"/>
<circle cx="1098.4" cy="213.4" r="1.3"/>
<circle cx="1097.4" cy="221.8" r="2.1"/>
<circle cx="1104.4" cy="229.8" r="2.0"/>
<circle cx="1110.3" cy="232.0" r="1.5"/>
<circle cx="1119.5" cy="232.0" r="2.4"/>
<circle cx="1126.8" cy="228.2" r="1.9"/>
<circle cx="1131.9" cy="222.6" r="1.6"/>
<circle cx="1132.9" cy="215.6" r="2.3"/>
<circle cx="1136.3" cy="208.0" r="1.8"/>
<circle cx="1142.4" cy="203.1" r="1.9"/>
<circle cx="1152.0" cy="200.0" r="1.3"/>
<circle cx="1157.1" cy="196.3" r="2.2"/>
<circle cx="1160.1" cy="190.3" r="2.1"/>
<circle cx="1162.0" cy="184.1" r="1.9"/>
<circle cx="1166.5" cy="178.9" r="1.8"/>
<circle cx="1173.9" cy="176.5" r="2.3"/>
<circle cx="1181.4" cy="183.8" r="1.5"/>
<circle cx="1183.4" cy="191.6" r="1.8"/>
<circle cx="1183.5" cy="199.7" r="1.7"/>
<circle cx="1182.3" cy="208.3" r="2.0"/>
<circle cx="1188.8" cy="213.3" r="1.8"/>
<circle cx="1196.1" cy="215.5" r="1.6"/>
<circle cx="1205.7" cy="220.3" r="1.9"/>
<circle cx="1215.2" cy="222.6" r="2.2"/>
<circle cx="1237.3" cy="128.9" r="1.6"/>
<circle cx="1232.6" cy="124.1" r="2.0"/>
<circle cx="1227.4" cy="119.4" r="1.3"/>
<circle cx="1219.4" cy="112.3" r="2.1"/>
<circle cx="1214.2" cy="102.4" r="1.4"/>
<circle cx="1209.1" cy="94.4" r="1.7"/>
<circle cx="1201.1" cy="92.9" r="1.5"/>
<circle cx="1190.5" cy="93.8" r="1.5"/>
<circle cx="1182.4" cy="91.0" r="2.1"/>
<circle cx="1173.3" cy="90.0" r="1.7"/>
<circle cx="1165.2" cy="92.4" r="1.3"/>
<circle cx="1160.0" cy="98.7" r="1.8"/>
<circle cx="1162.8" cy="107.0" r="1.4"/>
<circle cx="1171.4" cy="112.1" r="1.9"/>
<circle cx="1176.1" cy="116.9" r="2.0"/>
<circle cx="1180.3" cy="126.1" r="1.3"/>
<circle cx="1182.3" cy="133.3" r="1.5"/>
<circle cx="1184.8" cy="143.9" r="1.5"/>
<circle cx="1190.5" cy="149.0" r="2.0"/>
<circle cx="1197.2" cy="150.7" r="1.5"/>
<circle cx="1201.3" cy="143.9" r="2.2"/>
<circle cx="1204.0" cy="138.9" r="1.5"/>
<circle cx="1211.5" cy="135.6" r="1.7"/>
<circle cx="1219.1" cy="137.9" r="1.7"/>
<circle cx="1224.2" cy="143.6" r="1.4"/>
<circle cx="1225.9" cy="151.4" r="2.4"/>
<circle cx="1222.8" cy="160.4" r="1.6"/>
<circle cx="1218.3" cy="164.6" r="1.6"/>
<circle cx="1212.7" cy="168.4" r="2.1"/>
<circle cx="1209.7" cy="173.8" r="1.6"/>
<circle cx="1209.3" cy="182.5" r="2.3"/>
<circle cx="1212.6" cy="192.3" r="2.2"/>
<circle cx="1215.0" cy="202.6" r="1.9"/>
<circle cx="1215.7" cy="208.9" r="2.3"/>
<circle cx="1216.3" cy="219.1" r="2.1"/>
<circle cx="1241.1" cy="69.9" r="1.7"/>
<circle cx="1234.4" cy="76.2" r="2.0"/>
<circle cx="1228.8" cy="84.8" r="1.5"/>
<circle cx="1229.7" cy="92.9" r="2.0"/>
<circle cx="1238.5" cy="97.8" r="1.8"/>
<circle cx="1243.9" cy="106.1" r="2.3"/>
<circle cx="1246.6" cy="114.6" r="1.3"/>
<circle cx="1250.0" cy="119.7" r="1.7"/>
<circle cx="1255.8" cy="127.1" r="2.2"/>
<circle cx="1252.8" cy="131.7" r="1.5"/>
<circle cx="1243.1" cy="131.1" r="2.2"/>
<circle cx="1212.9" cy="187.2" r="2.3"/>
<circle cx="1221.3" cy="183.5" r="1.8"/>
<circle cx="1227.9" cy="180.8" r="1.6"/>
<circle cx="1233.5" cy="178.6" r="1.4"/>
<circle cx="1240.7" cy="176.9" r="2.3"/>
<circle cx="1250.6" cy="178.8" r="2.1"/>
<circle cx="1254.7" cy="186.7" r="2.2"/>
<circle cx="1254.0" cy="194.2" r="1.7"/>
<circle cx="1251.4" cy="203.4" r="2.3"/>
<circle cx="1249.2" cy="212.8" r="2.3"/>
<circle cx="1246.8" cy="220.3" r="1.4"/>
<circle cx="1242.6" cy="225.3" r="1.4"/>
<circle cx="1237.8" cy="231.9" r="1.4"/>
<circle cx="1233.9" cy="241.4" r="2.2"/>
<circle cx="1235.7" cy="247.5" r="1.7"/>
<circle cx="1240.7" cy="251.5" r="2.2"/>
<circle cx="1248.5" cy="254.9" r="1.9"/>
<circle cx="1256.6" cy="258.0" r="1.4"/>
<circle cx="1266.1" cy="261.2" r="2.3"/>
<circle cx="1275.5" cy="262.7" r="2.3"/>
<circle cx="1284.0" cy="260.8" r="1.6"/>
<circle cx="1291.7" cy="257.2" r="2.2"/>
<circle cx="1294.9" cy="251.4" r="2.0"/>
<circle cx="1292.1" cy="240.8" r="1.4"/>
<circle cx="1285.2" cy="233.0" r="1.3"/>
<circle cx="1280.2" cy="228.8" r="2.4"/>
<circle cx="1275.6" cy="220.7" r="1.4"/>
<circle cx="1277.8" cy="211.7" r="1.6"/>
<circle cx="1280.8" cy="202.1" r="1.4"/>
<circle cx="1279.4" cy="194.8" r="1.7"/>
<circle cx="1278.8" cy="188.1" r="2.3"/>
<circle cx="1279.4" cy="181.7" r="1.6"/>
<circle cx="1286.8" cy="177.4" r="1.4"/>
<circle cx="1293.4" cy="182.3" r="1.3"/>
<circle cx="1298.6" cy="187.8" r="2.4"/>
<circle cx="1304.9" cy="196.6" r="2.0"/>
<circle cx="1309.0" cy="205.5" r="1.6"/>
<circle cx="1316.7" cy="208.8" r="2.3"/>
<circle cx="1327.7" cy="210.7" r="2.4"/>
<circle cx="1331.9" cy="215.0" r="1.5"/>
<circle cx="1330.3" cy="224.9" r="2.4"/>
<circle cx="1326.9" cy="232.0" r="2.1"/>
<circle cx="1324.6" cy="240.1" r="1.6"/>
<circle cx="1324.4" cy="247.3" r="1.6"/>
<circle cx="1326.1" cy="255.7" r="1.4"/>
<circle cx="1331.1" cy="264.2" r="2.4"/>
<circle cx="1340.1" cy="269.3" r="2.0"/>
<circle cx="1349.6" cy="271.0" r="2.3"/>
<circle cx="1358.2" cy="270.9" r="1.6"/>
<circle cx="1366.6" cy="268.3" r="1.6"/>
<circle cx="1303.6" cy="189.6" r="1.6"/>
<circle cx="1307.8" cy="184.9" r="1.9"/>
<circle cx="1316.1" cy="180.7" r="2.0"/>
<circle cx="1324.3" cy="179.1" r="1.3"/>
<circle cx="1333.4" cy="177.7" r="1.4"/>
<circle cx="1342.2" cy="173.1" r="1.4"/>
<circle cx="1344.6" cy="165.6" r="2.0"/>
<circle cx="1341.2" cy="155.1" r="2.2"/>
<circle cx="1334.8" cy="148.2" r="2.2"/>
<circle cx="1334.2" cy="140.7" r="1.9"/>
<circle cx="1326.8" cy="135.7" r="1.4"/>
<circle cx="1320.5" cy="138.0" r="1.5"/>
<circle cx="1318.3" cy="143.1" r="2.4"/>
<circle cx="1323.5" cy="147.7" r="1.7"/>
<circle cx="1280.8" cy="100.5" r="2.3"/>
<circle cx="1289.2" cy="102.2" r="2.3"/>
<circle cx="1295.9" cy="108.8" r="2.3"/>
<circle cx="1299.8" cy="118.6" r="1.6"/>
<circle cx="1307.6" cy="125.6" r="2.2"/>
<circle cx="1313.9" cy="126.2" r="2.2"/>
<circle cx="1319.8" cy="124.0" r="2.1"/>
<circle cx="1319.5" cy="116.9" r="1.8"/>
<circle cx="1274.2" cy="111.1" r="2.0"/>
<circle cx="1274.0" cy="118.7" r="1.4"/>
<circle cx="1272.5" cy="128.2" r="2.2"/>
<circle cx="1272.9" cy="134.4" r="1.9"/>
<circle cx="1277.5" cy="140.6" r="1.8"/>
<circle cx="1283.4" cy="143.8" r="1.7"/>
<circle cx="1291.8" cy="148.1" r="1.3"/>
<circle cx="1299.8" cy="154.1" r="1.8"/>
<circle cx="1306.4" cy="158.4" r="1.4"/>
<circle cx="1314.8" cy="160.7" r="1.5"/>
<circle cx="1323.8" cy="157.7" r="1.6"/>
<circle cx="1318.0" cy="110.0" r="1.7"/>
<circle cx="1327.7" cy="107.8" r="1.6"/>
<circle cx="1335.6" cy="106.2" r="1.9"/>
<circle cx="1346.1" cy="105.5" r="2.0"/>
<circle cx="1353.4" cy="111.0" r="2.1"/>
<circle cx="1359.9" cy="117.6" r="1.6"/>
<circle cx="1365.0" cy="122.9" r="1.8"/>
<circle cx="1371.7" cy="128.2" r="1.8"/>
<circle cx="1076.6" cy="300.2" r="2.3"/>
<circle cx="1082.3" cy="304.0" r="2.0"/>
<circle cx="1090.3" cy="308.2" r="1.4"/>
<circle cx="1101.3" cy="309.6" r="2.3"/>
<circle cx="1108.6" cy="306.8" r="2.1"/>
<circle cx="1113.7" cy="298.5" r="1.6"/>
<circle cx="1113.0" cy="291.4" r="2.2"/>
<circle cx="1110.1" cy="284.6" r="2.1"/>
<circle cx="1104.6" cy="277.1" r="2.0"/>
<circle cx="1102.5" cy="270.8" r="2.3"/>
<circle cx="1106.8" cy="266.1" r="1.9"/>
<circle cx="1112.5" cy="264.7" r="1.6"/>
<circle cx="1122.3" cy="265.2" r="1.9"/>
<circle cx="1129.5" cy="271.6" r="1.4"/>
<circle cx="1133.1" cy="278.1" r="2.1"/>
<circle cx="1137.0" cy="284.5" r="1.9"/>
<circle cx="1144.5" cy="289.8" r="2.1"/>
<circle cx="1154.0" cy="291.9" r="2.4"/>
<circle cx="1162.6" cy="286.9" r="2.0"/>
<circle cx="1164.5" cy="280.3" r="2.3"/>
<circle cx="1168.1" cy="271.9" r="1.5"/>
<circle cx="1172.3" cy="267.7" r="2.2"/>
<circle cx="1178.5" cy="263.9" r="2.1"/>
<circle cx="1161.0" cy="295.8" r="2.4"/>
<circle cx="1157.4" cy="301.3" r="2.2"/>
<circle cx="1152.0" cy="307.9" r="1.5"/>
<circle cx="1150.3" cy="316.3" r="1.4"/>
<circle cx="1157.0" cy="323.0" r="2.4"/>
<circle cx="1163.3" cy="324.4" r="2.0"/>
<circle cx="1173.1" cy="324.6" r="1.4"/>
<circle cx="1182.6" cy="323.4" r="1.6"/>
<circle cx="1190.2" cy="318.6" r="1.3"/>
<circle cx="1194.4" cy="312.2" r="1.8"/>
<circle cx="1194.4" cy="302.6" r="2.0"/>
<circle cx="1200.1" cy="295.6" r="2.2"/>
<circle cx="1207.7" cy="294.7" r="1.6"/>
<circle cx="1217.4" cy="294.3" r="1.6"/>
<circle cx="1225.3" cy="295.8" r="1.6"/>
<circle cx="1227.8" cy="303.4" r="2.2"/>
<circle cx="1227.2" cy="310.6" r="2.4"/>
<circle cx="1225.7" cy="317.5" r="1.8"/>
<circle cx="1167.4" cy="249.3" r="1.9"/>
<circle cx="1169.4" cy="257.0" r="1.6"/>
<circle cx="1173.5" cy="265.0" r="2.2"/>
<circle cx="1180.9" cy="272.0" r="2.1"/>
<circle cx="1190.9" cy="273.4" r="2.4"/>
<circle cx="1198.3" cy="269.4" r="2.4"/>
<circle cx="1201.5" cy="263.3" r="1.9"/>
<circle cx="1202.1" cy="253.3" r="1.6"/>
<circle cx="1199.3" cy="246.4" r="1.7"/>
<circle cx="1192.1" cy="242.7" r="1.3"/>
<circle cx="1183.7" cy="242.4" r="1.8"/>
<circle cx="1175.0" cy="243.9" r="1.7"/>
<circle cx="1270.1" cy="297.6" r="1.8"/>
<circle cx="1274.1" cy="291.2" r="1.7"/>
<circle cx="1281.1" cy="287.0" r="1.3"/>
<circle cx="1290.3" cy="287.8" r="2.0"/>
<circle cx="1295.6" cy="295.5" r="2.2"/>
<circle cx="1298.7" cy="301.3" r="2.4"/>
<circle cx="1305.0" cy="306.5" r="2.2"/>
<circle cx="1313.4" cy="304.2" r="2.1"/>
<circle cx="1321.0" cy="299.6" r="1.6"/>
<circle cx="1326.8" cy="298.2" r="2.0"/>
<circle cx="1337.1" cy="298.2" r="1.7"/>
<circle cx="1345.2" cy="301.2" r="1.7"/>
<circle cx="1350.5" cy="309.9" r="1.7"/>
<circle cx="1255.2" cy="309.4" r="2.1"/>
<circle cx="1263.3" cy="307.6" r="2.1"/>
<circle cx="1268.9" cy="304.2" r="2.1"/>
<circle cx="1137.6" cy="204.7" r="2.0"/>
<circle cx="1145.3" cy="202.5" r="2.0"/>
<circle cx="1153.7" cy="200.9" r="2.3"/>
<circle cx="1145.7" cy="214.5" r="2.1"/>
<circle cx="1147.4" cy="221.9" r="2.0"/>
<circle cx="1149.9" cy="228.8" r="1.6"/>
<circle cx="1155.5" cy="236.1" r="2.3"/>
<circle cx="1161.3" cy="240.8" r="1.5"/>
<circle cx="1239.5" cy="131.4" r="6.7"/>
<circle cx="1215.6" cy="221.8" r="5.0"/>
<circle cx="1282.8" cy="204.2" r="4.7"/>
<circle cx="1182.4" cy="208.4" r="3.7"/>
<circle cx="1285.8" cy="236.8" r="3.0"/>
<circle cx="1227.3" cy="91.3" r="2.5"/>
<circle cx="1164.5" cy="220.6" r="2.5"/>
<circle cx="1227.3" cy="297.9" r="2.5"/>
<circle cx="1280.8" cy="111.4" r="3.3"/>
<circle cx="1167.0" cy="107.2" r="2.5"/>
<circle cx="1174.6" cy="105.8" r="2.0"/>
<circle cx="1185.4" cy="93.8" r="2.0"/>
<circle cx="1106.0" cy="140.6" r="2.0"/>
<circle cx="1098.4" cy="153.2" r="1.7"/>
<circle cx="1109.3" cy="200.9" r="1.7"/>
<circle cx="1118.5" cy="232.7" r="1.7"/>
<circle cx="1148.6" cy="291.2" r="2.0"/>
<circle cx="1162.9" cy="291.2" r="2.3"/>
<circle cx="1152.0" cy="318.0" r="2.0"/>
<circle cx="1172.1" cy="323.0" r="2.0"/>
<circle cx="1193.0" cy="313.8" r="2.0"/>
<circle cx="1177.9" cy="241.9" r="1.7"/>
<circle cx="1191.3" cy="241.9" r="1.7"/>
<circle cx="1249.9" cy="198.4" r="2.3"/>
<circle cx="1213.9" cy="200.0" r="2.0"/>
<circle cx="1247.3" cy="220.1" r="1.7"/>
<circle cx="1277.5" cy="229.3" r="1.3"/>
<circle cx="1296.7" cy="186.6" r="2.0"/>
<circle cx="1302.6" cy="190.8" r="1.7"/>
<circle cx="1332.7" cy="267.8" r="1.3"/>
<circle cx="1361.1" cy="269.5" r="1.3"/>
<circle cx="1374.5" cy="262.8" r="1.3"/>
<circle cx="1275.8" cy="292.9" r="1.3"/>
<circle cx="1282.5" cy="309.6" r="1.7"/>
<circle cx="1203.8" cy="94.6" r="1.7"/>
<circle cx="1208.9" cy="93.8" r="1.7"/>
<circle cx="1274.1" cy="132.3" r="2.3"/>
<circle cx="1277.5" cy="137.3" r="2.3"/>
<circle cx="1300.9" cy="152.3" r="2.3"/>
<circle cx="1305.9" cy="157.4" r="1.7"/>
<circle cx="1180.4" cy="93.0" r="2.3"/>
<circle cx="1187.1" cy="95.5" r="2.0"/>
<circle cx="1193.8" cy="94.6" r="2.0"/>
<circle cx="1200.5" cy="93.0" r="2.0"/>
<circle cx="1275.8" cy="128.9" r="3.7"/>
<circle cx="1280.8" cy="135.6" r="3.7"/>
<circle cx="1284.2" cy="140.6" r="2.7"/>
<circle cx="1275.0" cy="139.0" r="2.3"/>
<circle cx="1287.5" cy="145.7" r="2.0"/>
<circle cx="1297.5" cy="150.7" r="2.3"/>
<circle cx="1304.2" cy="155.7" r="2.0"/>
<circle cx="1310.9" cy="159.0" r="1.7"/>
<circle cx="1136.9" cy="204.2" r="2.0"/>
<circle cx="1141.9" cy="207.6" r="1.7"/>
<circle cx="1148.6" cy="209.2" r="1.7"/>
<circle cx="1157.0" cy="209.2" r="2.0"/>
<circle cx="1163.7" cy="215.9" r="1.7"/>
<circle cx="1337.7" cy="229.3" r="1.7"/>
<circle cx="1341.0" cy="254.4" r="1.7"/>
</g></g>
<rect x="1387" y="65.7" width="304" height="273.3" fill="#000"/>
<g clip-path="url(#cb2)">
<g fill="none" stroke="#0d5c0d" stroke-width="2" filter="url(#glow2)" opacity="0.8">
<path d="M1535.6 125.6 C1537.0 125.3 1541.2 123.3 1543.9 123.9 C1546.7 124.5 1550.6 126.1 1552.3 128.9 C1554.0 131.7 1552.9 137.0 1554.0 140.6 C1555.1 144.3 1555.1 147.0 1559.0 150.7 C1562.9 154.3 1574.1 157.6 1577.4 162.4 C1580.8 167.1 1579.9 174.1 1579.1 179.1 C1578.2 184.1 1574.1 189.2 1572.4 192.5 C1570.7 195.8 1569.6 198.1 1569.0 199.2"/>
<path d="M1390.0 92.1 C1392.0 91.3 1397.5 86.5 1401.7 87.1 C1405.9 87.7 1411.8 92.4 1415.1 95.5 C1418.5 98.5 1420.7 103.8 1421.8 105.5"/>
<path d="M1405.1 155.7 C1406.8 157.4 1413.2 161.8 1415.1 165.7 C1417.1 169.6 1418.5 175.2 1416.8 179.1 C1415.1 183.0 1407.6 185.8 1405.1 189.2 C1402.6 192.5 1401.5 195.8 1401.7 199.2 C1402.0 202.5 1405.9 207.6 1406.8 209.2"/>
<path d="M1552.3 95.5 C1553.7 97.7 1557.3 106.1 1560.7 108.8 C1564.0 111.6 1568.2 111.6 1572.4 112.2 C1576.6 112.8 1580.8 111.6 1585.8 112.2 C1590.8 112.8 1597.5 113.3 1602.5 115.5 C1607.5 117.8 1612.0 123.3 1615.9 125.6 C1619.8 127.8 1623.7 126.4 1625.9 128.9 C1628.2 131.4 1630.4 137.3 1629.3 140.6 C1628.2 144.0 1623.7 147.3 1619.2 149.0 C1614.8 150.7 1605.3 150.4 1602.5 150.7"/>
<path d="M1527.2 212.6 C1528.0 212.0 1529.4 209.5 1532.2 209.2 C1535.0 209.0 1540.6 210.3 1543.9 210.9 C1547.3 211.5 1549.5 213.1 1552.3 212.6 C1555.1 212.0 1558.2 209.8 1560.7 207.6 C1563.2 205.3 1566.3 200.6 1567.4 199.2"/>
<path d="M1527.2 212.6 C1527.5 214.3 1527.8 219.5 1528.9 222.6 C1530.0 225.7 1532.8 227.6 1533.9 231.0 C1535.0 234.3 1533.9 239.6 1535.6 242.7 C1537.3 245.8 1539.8 248.5 1543.9 249.4 C1548.1 250.2 1556.5 246.9 1560.7 247.7 C1564.9 248.5 1567.1 251.3 1569.0 254.4 C1571.0 257.5 1570.2 263.0 1572.4 266.1 C1574.6 269.2 1578.8 272.5 1582.4 272.8 C1586.0 273.1 1591.1 270.9 1594.1 267.8 C1597.2 264.7 1599.4 258.9 1600.8 254.4 C1602.2 249.9 1603.3 244.6 1602.5 241.0 C1601.7 237.4 1598.6 234.9 1595.8 232.7 C1593.0 230.4 1587.7 230.4 1585.8 227.6 C1583.8 224.8 1583.0 219.0 1584.1 215.9 C1585.2 212.9 1589.4 212.6 1592.5 209.2 C1595.5 205.9 1599.2 199.2 1602.5 195.8 C1605.8 192.5 1610.9 190.3 1612.5 189.2"/>
<path d="M1619.2 189.2 C1620.1 190.3 1622.9 193.3 1624.3 195.8 C1625.6 198.4 1627.0 202.8 1627.6 204.2"/>
<path d="M1493.8 301.3 C1495.7 300.4 1501.3 296.0 1505.5 296.2 C1509.6 296.5 1514.4 301.3 1518.8 302.9 C1523.3 304.6 1527.8 306.0 1532.2 306.3 C1536.7 306.5 1541.2 305.2 1545.6 304.6 C1550.1 304.0 1555.1 302.4 1559.0 302.9 C1562.9 303.5 1566.5 305.4 1569.0 307.9 C1571.5 310.5 1572.9 314.4 1574.1 318.0 C1575.2 321.6 1575.5 327.7 1575.7 329.7"/>
<path d="M1649.3 75.4 C1651.0 76.5 1657.2 78.7 1659.4 82.1 C1661.6 85.4 1663.3 91.6 1662.7 95.5 C1662.2 99.4 1656.0 102.7 1656.0 105.5 C1656.0 108.3 1659.9 110.5 1662.7 112.2 C1665.5 113.9 1671.1 115.0 1672.8 115.5"/>
<path d="M1659.4 165.7 C1661.1 165.2 1666.1 161.8 1669.4 162.4 C1672.8 162.9 1676.7 166.3 1679.5 169.1 C1682.3 171.9 1685.0 177.4 1686.2 179.1"/>
<path d="M1395.0 262.8 C1395.9 264.2 1399.5 267.8 1400.1 271.1 C1400.6 274.5 1398.1 279.2 1398.4 282.8 C1398.7 286.5 1401.2 291.2 1401.7 292.9"/>
<path d="M1473.7 78.7 C1475.1 80.1 1481.2 83.5 1482.0 87.1 C1482.9 90.7 1480.4 96.3 1478.7 100.5 C1477.0 104.7 1473.1 110.2 1472.0 112.2"/>
</g><g fill="#138f13" filter="url(#soft)" opacity="0.8">
<circle cx="1391.7" cy="120.6" r="6.7"/>
<circle cx="1391.7" cy="177.4" r="5.0"/>
<circle cx="1549.8" cy="143.1" r="7.0"/>
<circle cx="1629.3" cy="144.0" r="3.7"/>
<circle cx="1567.4" cy="198.4" r="4.2"/>
<circle cx="1435.2" cy="241.9" r="2.5"/>
<circle cx="1408.4" cy="316.3" r="6.7"/>
<circle cx="1614.2" cy="231.0" r="8.4"/>
</g><g fill="#1df01d" filter="url(#glow2)">
<circle cx="1509.1" cy="76.2" r="5.9"/>
<circle cx="1438.2" cy="115.2" r="3.3"/>
<circle cx="1417.6" cy="143.5" r="7.5"/>
<circle cx="1446.1" cy="166.9" r="2.3"/>
<circle cx="1466.6" cy="174.1" r="3.3"/>
<circle cx="1463.6" cy="169.4" r="1.7"/>
<circle cx="1554.0" cy="97.6" r="2.0"/>
<circle cx="1602.5" cy="111.0" r="2.0"/>
<circle cx="1620.4" cy="77.6" r="1.7"/>
<circle cx="1672.4" cy="118.9" r="3.7"/>
<circle cx="1585.4" cy="133.1" r="4.2"/>
<circle cx="1591.6" cy="141.5" r="6.4"/>
<circle cx="1648.0" cy="142.6" r="11.4"/>
<circle cx="1612.5" cy="189.2" r="3.0"/>
<circle cx="1684.1" cy="186.6" r="3.7"/>
<circle cx="1673.1" cy="213.9" r="2.8"/>
<circle cx="1613.9" cy="231.8" r="2.3"/>
<circle cx="1468.3" cy="286.2" r="13.1"/>
<circle cx="1615.0" cy="325.5" r="7.5"/>
<circle cx="1426.5" cy="316.6" r="1.7"/>
<circle cx="1543.1" cy="77.9" r="1.3"/>
<circle cx="1543.1" cy="82.9" r="1.3"/>
</g></g>
<rect x="1702.8" y="65.7" width="304.8" height="271.8" fill="#000"/>
<g clip-path="url(#cb3)" filter="url(#soft)">
<circle cx="1994.5" cy="155.7" r="23.4" fill="#0c5a0c" opacity="0.35"/>
<circle cx="1984.4" cy="262.8" r="21.8" fill="#0c5a0c" opacity="0.3"/>
<circle cx="1875.7" cy="142.3" r="15.1" fill="#0c5a0c" opacity="0.2"/>
<circle cx="1934.2" cy="215.9" r="13.4" fill="#0c5a0c" opacity="0.25"/>
</g>
<g clip-path="url(#cb3)">
<g fill="none" stroke="#0b7a0b" stroke-width="5" stroke-linecap="round" stroke-linejoin="round" filter="url(#glow)" opacity="0.7">
<path d="M1763.6 87.1 C1764.7 85.7 1767.8 81.2 1770.3 78.7 C1772.8 76.2 1775.8 73.7 1778.6 72.0 C1781.4 70.4 1784.5 68.7 1787.0 68.7 C1789.5 68.7 1792.0 70.1 1793.7 72.0 C1795.4 74.0 1795.9 77.6 1797.0 80.4 C1798.2 83.2 1798.4 86.5 1800.4 88.8 C1802.3 91.0 1805.4 92.7 1808.8 93.8 C1812.1 94.9 1817.1 95.6 1820.5 95.5 C1823.8 95.3 1826.9 94.6 1828.8 93.0 C1830.8 91.3 1831.6 88.4 1832.2 85.4 C1832.7 82.5 1831.9 78.2 1832.2 75.4 C1832.5 72.6 1832.7 70.2 1833.8 68.7 C1835.0 67.2 1838.0 66.6 1838.9 66.2"/>
<path d="M1864.0 67.0 C1863.7 68.7 1862.0 74.0 1862.3 77.1 C1862.6 80.1 1863.7 83.2 1865.6 85.4 C1867.6 87.7 1871.2 89.5 1874.0 90.4 C1876.8 91.4 1879.9 92.1 1882.4 91.3 C1884.9 90.4 1887.5 88.1 1889.1 85.4 C1890.6 82.8 1891.3 78.5 1891.6 75.4 C1891.8 72.3 1890.9 68.4 1890.7 67.0"/>
<path d="M1915.8 67.0 C1917.2 67.9 1921.7 70.1 1924.2 72.0 C1926.7 74.0 1930.0 75.9 1930.9 78.7 C1931.7 81.5 1930.9 86.3 1929.2 88.8 C1927.5 91.3 1922.8 91.8 1920.8 93.8 C1918.9 95.7 1917.5 97.7 1917.5 100.5 C1917.5 103.3 1918.9 108.0 1920.8 110.5 C1922.8 113.0 1926.4 114.7 1929.2 115.5 C1932.0 116.4 1934.8 116.4 1937.6 115.5 C1940.4 114.7 1943.4 111.9 1945.9 110.5 C1948.5 109.1 1950.7 106.9 1952.6 107.2 C1954.6 107.5 1956.8 110.2 1957.7 112.2 C1958.5 114.1 1958.5 116.7 1957.7 118.9 C1956.8 121.1 1953.8 123.3 1952.6 125.6 C1951.5 127.8 1950.1 130.6 1951.0 132.3 C1951.8 133.9 1954.9 135.3 1957.7 135.6 C1960.4 135.9 1964.9 135.1 1967.7 133.9 C1970.5 132.8 1973.0 131.2 1974.4 128.9 C1975.8 126.7 1976.1 122.8 1976.1 120.6 C1976.1 118.3 1975.8 116.7 1974.4 115.5 C1973.0 114.4 1969.9 113.6 1967.7 113.9 C1965.5 114.1 1962.1 116.7 1961.0 117.2"/>
<path d="M1770.3 78.7 C1770.5 82.4 1770.3 95.5 1771.9 100.5 C1773.6 105.5 1776.7 106.3 1780.3 108.8 C1783.9 111.4 1790.1 113.6 1793.7 115.5 C1797.3 117.5 1799.8 118.3 1802.1 120.6 C1804.3 122.8 1806.5 126.1 1807.1 128.9 C1807.6 131.7 1806.5 135.3 1805.4 137.3 C1804.3 139.2 1802.9 140.4 1800.4 140.6 C1797.9 140.9 1793.4 140.4 1790.3 139.0 C1787.3 137.6 1784.5 133.1 1782.0 132.3 C1779.5 131.4 1777.8 132.5 1775.3 133.9 C1772.8 135.3 1770.0 139.0 1766.9 140.6 C1763.9 142.3 1760.0 144.0 1756.9 144.0 C1753.8 144.0 1750.6 142.6 1748.5 140.6 C1746.4 138.7 1745.2 135.6 1744.3 132.3 C1743.5 128.9 1743.5 124.5 1743.5 120.6 C1743.5 116.7 1744.9 111.8 1744.3 108.8 C1743.8 105.9 1742.2 104.2 1740.2 103.0 C1738.1 101.7 1735.1 101.0 1731.8 101.3 C1728.4 101.6 1723.7 102.9 1720.1 104.7 C1716.5 106.5 1712.5 109.0 1710.0 112.2 C1707.5 115.4 1706.0 120.0 1705.0 123.9 C1704.0 127.8 1703.1 132.3 1704.2 135.6 C1705.3 139.0 1708.8 141.8 1711.7 144.0 C1714.6 146.2 1719.2 146.8 1721.8 149.0 C1724.3 151.2 1726.2 154.3 1726.8 157.4 C1727.3 160.4 1726.2 164.3 1725.1 167.4 C1724.0 170.5 1722.0 173.4 1720.1 175.8 C1718.1 178.1 1715.6 180.4 1713.4 181.6 C1711.2 182.9 1707.8 183.0 1706.7 183.3"/>
<path d="M1870.7 149.0 C1869.8 147.3 1866.2 142.0 1865.6 139.0 C1865.1 135.9 1865.9 133.1 1867.3 130.6 C1868.7 128.1 1871.2 125.6 1874.0 123.9 C1876.8 122.2 1880.7 120.6 1884.0 120.6 C1887.4 120.6 1891.3 122.0 1894.1 123.9 C1896.9 125.9 1898.3 129.8 1900.8 132.3 C1903.3 134.8 1906.3 137.0 1909.1 139.0 C1911.9 140.9 1914.2 142.3 1917.5 144.0 C1920.8 145.7 1925.3 147.9 1929.2 149.0 C1933.1 150.1 1936.7 151.0 1940.9 150.7 C1945.1 150.4 1951.0 149.0 1954.3 147.3 C1957.7 145.7 1959.6 143.7 1961.0 140.6 C1962.4 137.6 1963.0 132.3 1962.7 128.9 C1962.4 125.6 1958.8 122.8 1959.3 120.6 C1959.9 118.3 1963.2 116.4 1966.0 115.5 C1968.8 114.7 1973.5 114.4 1976.1 115.5 C1978.6 116.7 1980.0 118.9 1981.1 122.2 C1982.2 125.6 1983.0 131.4 1982.8 135.6 C1982.5 139.8 1980.0 143.7 1979.4 147.3 C1978.8 151.0 1979.4 155.7 1979.4 157.4"/>
<path d="M1870.7 149.0 C1872.3 149.6 1877.1 151.2 1880.7 152.3 C1884.3 153.5 1889.6 154.0 1892.4 155.7 C1895.2 157.4 1895.5 159.9 1897.4 162.4 C1899.4 164.9 1901.3 168.2 1904.1 170.8 C1906.9 173.3 1910.8 175.8 1914.2 177.4 C1917.5 179.1 1920.3 180.8 1924.2 180.8 C1928.1 180.8 1933.4 177.7 1937.6 177.4 C1941.8 177.2 1946.5 178.3 1949.3 179.1 C1952.1 180.0 1953.8 180.2 1954.3 182.5 C1954.9 184.7 1954.3 190.3 1952.6 192.5 C1951.0 194.7 1947.3 195.0 1944.3 195.8 C1941.2 196.7 1936.7 196.1 1934.2 197.5 C1931.7 198.9 1929.8 201.1 1929.2 204.2 C1928.7 207.3 1930.3 212.9 1930.9 215.9 C1931.4 219.0 1932.8 220.9 1932.6 222.6 C1932.3 224.3 1930.9 226.0 1929.2 226.0 C1927.5 226.0 1924.5 224.6 1922.5 222.6 C1920.6 220.7 1919.7 216.8 1917.5 214.3 C1915.3 211.7 1912.8 209.2 1909.1 207.6 C1905.5 205.9 1899.9 206.2 1895.8 204.2 C1891.6 202.3 1886.8 198.4 1884.0 195.8 C1881.3 193.3 1880.4 191.4 1879.0 189.2 C1877.6 186.9 1877.1 184.4 1875.7 182.5 C1874.3 180.5 1873.2 178.8 1870.7 177.4 C1868.1 176.0 1863.1 173.8 1860.6 174.1 C1858.1 174.4 1856.7 176.6 1855.6 179.1 C1854.5 181.6 1853.9 186.4 1853.9 189.2 C1853.9 191.9 1854.8 193.3 1855.6 195.8 C1856.4 198.4 1857.5 201.4 1858.9 204.2 C1860.3 207.0 1861.5 209.8 1864.0 212.6 C1866.5 215.4 1870.1 219.0 1874.0 220.9 C1877.9 222.9 1883.8 222.9 1887.4 224.3 C1891.0 225.7 1893.5 227.1 1895.8 229.3 C1898.0 231.5 1898.5 235.2 1900.8 237.7 C1903.0 240.2 1906.1 242.7 1909.1 244.4 C1912.2 246.0 1916.4 246.0 1919.2 247.7 C1922.0 249.4 1924.5 252.2 1925.9 254.4 C1927.3 256.6 1928.4 258.9 1927.5 261.1 C1926.7 263.3 1923.6 266.7 1920.8 267.8 C1918.1 268.9 1914.2 268.3 1910.8 267.8 C1907.5 267.2 1904.4 265.8 1900.8 264.4 C1897.1 263.0 1893.0 261.1 1889.1 259.4 C1885.2 257.8 1881.3 256.1 1877.3 254.4 C1873.4 252.7 1868.7 250.8 1865.6 249.4 C1862.6 248.0 1860.9 247.7 1858.9 246.0 C1857.0 244.4 1855.9 241.0 1853.9 239.3 C1852.0 237.7 1849.7 236.8 1847.2 236.0 C1844.7 235.2 1841.1 233.8 1838.9 234.3 C1836.6 234.9 1835.0 237.1 1833.8 239.3 C1832.7 241.6 1833.3 245.8 1832.2 247.7 C1831.1 249.7 1829.1 250.2 1827.2 251.1 C1825.2 251.9 1822.4 251.3 1820.5 252.7 C1818.5 254.1 1816.3 256.9 1815.4 259.4 C1814.6 261.9 1816.0 265.3 1815.4 267.8 C1814.9 270.3 1814.6 273.1 1812.1 274.5 C1809.6 275.9 1804.0 276.4 1800.4 276.2 C1796.8 275.9 1792.9 274.5 1790.3 272.8 C1787.8 271.1 1786.7 269.7 1785.3 266.1 C1783.9 262.5 1782.3 255.0 1782.0 251.1 C1781.7 247.2 1782.8 245.2 1783.7 242.7 C1784.5 240.2 1787.3 238.2 1787.0 236.0 C1786.7 233.8 1783.1 231.5 1782.0 229.3 C1780.9 227.1 1779.8 224.6 1780.3 222.6 C1780.9 220.7 1782.8 218.4 1785.3 217.6 C1787.8 216.8 1791.7 216.8 1795.4 217.6 C1799.0 218.4 1803.7 222.3 1807.1 222.6 C1810.4 222.9 1813.2 221.2 1815.4 219.3 C1817.7 217.3 1819.1 214.0 1820.5 210.9 C1821.9 207.8 1823.5 204.2 1823.8 200.9 C1824.1 197.5 1822.7 193.9 1822.1 190.8 C1821.6 187.8 1821.9 185.0 1820.5 182.5 C1819.1 180.0 1816.6 177.4 1813.8 175.8 C1811.0 174.1 1807.1 172.8 1803.7 172.4 C1800.4 172.0 1796.5 172.7 1793.7 173.3 C1790.9 173.8 1789.0 174.8 1787.0 175.8 C1785.0 176.7 1781.7 176.9 1782.0 179.1 C1782.3 181.3 1786.4 187.2 1788.7 189.2 C1790.9 191.1 1794.3 190.5 1795.4 190.8"/>
<path d="M1793.7 173.3 C1791.5 173.4 1784.2 173.1 1780.3 174.1 C1776.4 175.1 1772.8 176.6 1770.3 179.1 C1767.8 181.6 1766.4 186.1 1765.3 189.2 C1764.1 192.2 1765.0 195.6 1763.6 197.5 C1762.2 199.5 1760.0 200.3 1756.9 200.9 C1753.8 201.4 1748.5 200.0 1745.2 200.9 C1741.8 201.7 1738.9 203.4 1736.8 205.9 C1734.7 208.4 1733.0 212.6 1732.6 215.9 C1732.2 219.3 1732.8 223.7 1734.3 226.0 C1735.8 228.2 1739.5 227.6 1741.8 229.3 C1744.2 231.0 1747.1 233.2 1748.5 236.0 C1749.9 238.8 1750.1 242.1 1750.2 246.0 C1750.3 249.9 1749.6 254.7 1749.4 259.4 C1749.1 264.2 1749.2 270.6 1748.5 274.5 C1747.8 278.4 1747.1 280.5 1745.2 282.8 C1743.2 285.2 1739.9 287.3 1736.8 288.7 C1733.7 290.1 1729.8 291.9 1726.8 291.2 C1723.7 290.5 1720.5 287.3 1718.4 284.5 C1716.3 281.7 1714.5 277.5 1714.2 274.5 C1713.9 271.4 1715.5 268.6 1716.7 266.1 C1718.0 263.6 1720.9 262.8 1721.8 259.4 C1722.6 256.1 1722.6 249.4 1721.8 246.0 C1720.9 242.7 1719.0 241.0 1716.7 239.3 C1714.5 237.7 1710.6 236.8 1708.4 236.0 C1706.1 235.2 1704.2 234.6 1703.3 234.3"/>
<path d="M1838.9 234.3 C1840.0 237.1 1843.3 246.3 1845.6 251.1 C1847.8 255.8 1849.7 259.1 1852.3 262.8 C1854.8 266.4 1857.0 270.6 1860.6 272.8 C1864.2 275.0 1870.4 274.8 1874.0 276.2 C1877.6 277.5 1880.1 278.9 1882.4 281.2 C1884.6 283.4 1886.8 287.3 1887.4 289.5 C1887.9 291.8 1888.5 293.7 1885.7 294.6 C1882.9 295.4 1876.0 294.8 1870.7 294.6 C1865.4 294.3 1858.7 292.9 1853.9 292.9 C1849.2 292.9 1845.0 293.2 1842.2 294.6 C1839.4 296.0 1838.3 298.2 1837.2 301.3 C1836.1 304.3 1836.1 309.3 1835.5 313.0 C1835.0 316.6 1833.8 319.1 1833.8 323.0 C1833.8 326.9 1835.2 334.2 1835.5 336.4"/>
<path d="M1750.2 336.4 C1751.9 335.5 1756.9 332.5 1760.2 331.4 C1763.6 330.3 1767.5 332.2 1770.3 329.7 C1773.1 327.2 1774.7 320.2 1777.0 316.3 C1779.2 312.4 1780.9 308.5 1783.7 306.3 C1786.4 304.0 1790.3 303.2 1793.7 302.9 C1797.0 302.6 1800.9 302.9 1803.7 304.6 C1806.5 306.3 1809.0 309.9 1810.4 313.0 C1811.8 316.0 1812.1 319.7 1812.1 323.0 C1812.1 326.3 1811.3 330.8 1810.4 333.0 C1809.6 335.3 1807.6 335.8 1807.1 336.4"/>
<path d="M1850.6 319.7 C1852.3 319.1 1857.3 316.6 1860.6 316.3 C1864.0 316.0 1867.9 316.6 1870.7 318.0 C1873.4 319.4 1876.0 321.6 1877.3 324.7 C1878.7 327.7 1878.7 334.4 1879.0 336.4"/>
<path d="M1910.8 336.4 C1911.1 333.6 1911.9 324.7 1912.5 319.7 C1913.0 314.6 1912.5 309.6 1914.2 306.3 C1915.8 302.9 1919.2 301.3 1922.5 299.6 C1925.9 297.9 1930.3 297.6 1934.2 296.2 C1938.1 294.8 1942.0 292.6 1945.9 291.2 C1949.8 289.8 1954.6 287.6 1957.7 287.9 C1960.7 288.1 1963.0 289.8 1964.3 292.9 C1965.7 296.0 1965.5 301.5 1966.0 306.3 C1966.6 311.0 1967.4 316.3 1967.7 321.3 C1968.0 326.3 1967.7 333.9 1967.7 336.4"/>
<path d="M1957.7 222.6 C1958.5 223.5 1960.4 226.0 1962.7 227.6 C1964.9 229.3 1968.0 232.4 1971.0 232.7 C1974.1 232.9 1978.8 231.0 1981.1 229.3 C1983.3 227.6 1983.3 224.8 1984.4 222.6 C1985.5 220.4 1987.2 217.0 1987.8 215.9"/>
<path d="M1984.4 162.4 C1985.8 163.5 1990.0 168.0 1992.8 169.1 C1995.6 170.2 1998.9 170.2 2001.2 169.1 C2003.4 168.0 2005.1 165.7 2006.2 162.4 C2007.3 159.0 2007.8 153.7 2007.8 149.0 C2007.8 144.3 2006.5 136.5 2006.2 133.9"/>
<path d="M1974.4 262.8 C1975.5 265.0 1977.7 273.9 1981.1 276.2 C1984.4 278.4 1990.3 276.7 1994.5 276.2 C1998.6 275.6 2004.2 273.4 2006.2 272.8"/>
<path d="M1997.8 302.9 C1998.9 303.8 2002.8 305.7 2004.5 307.9 C2006.2 310.2 2007.3 314.9 2007.8 316.3"/>
<path d="M1984.4 78.7 C1986.1 79.3 1991.1 82.1 1994.5 82.1 C1997.8 82.1 2002.8 79.3 2004.5 78.7"/>
</g>
<g fill="none" stroke="#22e622" stroke-width="2.4" stroke-linecap="round" stroke-linejoin="round" filter="url(#glow2)">
<path d="M1763.6 87.1 C1764.7 85.7 1767.8 81.2 1770.3 78.7 C1772.8 76.2 1775.8 73.7 1778.6 72.0 C1781.4 70.4 1784.5 68.7 1787.0 68.7 C1789.5 68.7 1792.0 70.1 1793.7 72.0 C1795.4 74.0 1795.9 77.6 1797.0 80.4 C1798.2 83.2 1798.4 86.5 1800.4 88.8 C1802.3 91.0 1805.4 92.7 1808.8 93.8 C1812.1 94.9 1817.1 95.6 1820.5 95.5 C1823.8 95.3 1826.9 94.6 1828.8 93.0 C1830.8 91.3 1831.6 88.4 1832.2 85.4 C1832.7 82.5 1831.9 78.2 1832.2 75.4 C1832.5 72.6 1832.7 70.2 1833.8 68.7 C1835.0 67.2 1838.0 66.6 1838.9 66.2"/>
<path d="M1864.0 67.0 C1863.7 68.7 1862.0 74.0 1862.3 77.1 C1862.6 80.1 1863.7 83.2 1865.6 85.4 C1867.6 87.7 1871.2 89.5 1874.0 90.4 C1876.8 91.4 1879.9 92.1 1882.4 91.3 C1884.9 90.4 1887.5 88.1 1889.1 85.4 C1890.6 82.8 1891.3 78.5 1891.6 75.4 C1891.8 72.3 1890.9 68.4 1890.7 67.0"/>
<path d="M1915.8 67.0 C1917.2 67.9 1921.7 70.1 1924.2 72.0 C1926.7 74.0 1930.0 75.9 1930.9 78.7 C1931.7 81.5 1930.9 86.3 1929.2 88.8 C1927.5 91.3 1922.8 91.8 1920.8 93.8 C1918.9 95.7 1917.5 97.7 1917.5 100.5 C1917.5 103.3 1918.9 108.0 1920.8 110.5 C1922.8 113.0 1926.4 114.7 1929.2 115.5 C1932.0 116.4 1934.8 116.4 1937.6 115.5 C1940.4 114.7 1943.4 111.9 1945.9 110.5 C1948.5 109.1 1950.7 106.9 1952.6 107.2 C1954.6 107.5 1956.8 110.2 1957.7 112.2 C1958.5 114.1 1958.5 116.7 1957.7 118.9 C1956.8 121.1 1953.8 123.3 1952.6 125.6 C1951.5 127.8 1950.1 130.6 1951.0 132.3 C1951.8 133.9 1954.9 135.3 1957.7 135.6 C1960.4 135.9 1964.9 135.1 1967.7 133.9 C1970.5 132.8 1973.0 131.2 1974.4 128.9 C1975.8 126.7 1976.1 122.8 1976.1 120.6 C1976.1 118.3 1975.8 116.7 1974.4 115.5 C1973.0 114.4 1969.9 113.6 1967.7 113.9 C1965.5 114.1 1962.1 116.7 1961.0 117.2"/>
<path d="M1770.3 78.7 C1770.5 82.4 1770.3 95.5 1771.9 100.5 C1773.6 105.5 1776.7 106.3 1780.3 108.8 C1783.9 111.4 1790.1 113.6 1793.7 115.5 C1797.3 117.5 1799.8 118.3 1802.1 120.6 C1804.3 122.8 1806.5 126.1 1807.1 128.9 C1807.6 131.7 1806.5 135.3 1805.4 137.3 C1804.3 139.2 1802.9 140.4 1800.4 140.6 C1797.9 140.9 1793.4 140.4 1790.3 139.0 C1787.3 137.6 1784.5 133.1 1782.0 132.3 C1779.5 131.4 1777.8 132.5 1775.3 133.9 C1772.8 135.3 1770.0 139.0 1766.9 140.6 C1763.9 142.3 1760.0 144.0 1756.9 144.0 C1753.8 144.0 1750.6 142.6 1748.5 140.6 C1746.4 138.7 1745.2 135.6 1744.3 132.3 C1743.5 128.9 1743.5 124.5 1743.5 120.6 C1743.5 116.7 1744.9 111.8 1744.3 108.8 C1743.8 105.9 1742.2 104.2 1740.2 103.0 C1738.1 101.7 1735.1 101.0 1731.8 101.3 C1728.4 101.6 1723.7 102.9 1720.1 104.7 C1716.5 106.5 1712.5 109.0 1710.0 112.2 C1707.5 115.4 1706.0 120.0 1705.0 123.9 C1704.0 127.8 1703.1 132.3 1704.2 135.6 C1705.3 139.0 1708.8 141.8 1711.7 144.0 C1714.6 146.2 1719.2 146.8 1721.8 149.0 C1724.3 151.2 1726.2 154.3 1726.8 157.4 C1727.3 160.4 1726.2 164.3 1725.1 167.4 C1724.0 170.5 1722.0 173.4 1720.1 175.8 C1718.1 178.1 1715.6 180.4 1713.4 181.6 C1711.2 182.9 1707.8 183.0 1706.7 183.3"/>
<path d="M1870.7 149.0 C1869.8 147.3 1866.2 142.0 1865.6 139.0 C1865.1 135.9 1865.9 133.1 1867.3 130.6 C1868.7 128.1 1871.2 125.6 1874.0 123.9 C1876.8 122.2 1880.7 120.6 1884.0 120.6 C1887.4 120.6 1891.3 122.0 1894.1 123.9 C1896.9 125.9 1898.3 129.8 1900.8 132.3 C1903.3 134.8 1906.3 137.0 1909.1 139.0 C1911.9 140.9 1914.2 142.3 1917.5 144.0 C1920.8 145.7 1925.3 147.9 1929.2 149.0 C1933.1 150.1 1936.7 151.0 1940.9 150.7 C1945.1 150.4 1951.0 149.0 1954.3 147.3 C1957.7 145.7 1959.6 143.7 1961.0 140.6 C1962.4 137.6 1963.0 132.3 1962.7 128.9 C1962.4 125.6 1958.8 122.8 1959.3 120.6 C1959.9 118.3 1963.2 116.4 1966.0 115.5 C1968.8 114.7 1973.5 114.4 1976.1 115.5 C1978.6 116.7 1980.0 118.9 1981.1 122.2 C1982.2 125.6 1983.0 131.4 1982.8 135.6 C1982.5 139.8 1980.0 143.7 1979.4 147.3 C1978.8 151.0 1979.4 155.7 1979.4 157.4"/>
<path d="M1870.7 149.0 C1872.3 149.6 1877.1 151.2 1880.7 152.3 C1884.3 153.5 1889.6 154.0 1892.4 155.7 C1895.2 157.4 1895.5 159.9 1897.4 162.4 C1899.4 164.9 1901.3 168.2 1904.1 170.8 C1906.9 173.3 1910.8 175.8 1914.2 177.4 C1917.5 179.1 1920.3 180.8 1924.2 180.8 C1928.1 180.8 1933.4 177.7 1937.6 177.4 C1941.8 177.2 1946.5 178.3 1949.3 179.1 C1952.1 180.0 1953.8 180.2 1954.3 182.5 C1954.9 184.7 1954.3 190.3 1952.6 192.5 C1951.0 194.7 1947.3 195.0 1944.3 195.8 C1941.2 196.7 1936.7 196.1 1934.2 197.5 C1931.7 198.9 1929.8 201.1 1929.2 204.2 C1928.7 207.3 1930.3 212.9 1930.9 215.9 C1931.4 219.0 1932.8 220.9 1932.6 222.6 C1932.3 224.3 1930.9 226.0 1929.2 226.0 C1927.5 226.0 1924.5 224.6 1922.5 222.6 C1920.6 220.7 1919.7 216.8 1917.5 214.3 C1915.3 211.7 1912.8 209.2 1909.1 207.6 C1905.5 205.9 1899.9 206.2 1895.8 204.2 C1891.6 202.3 1886.8 198.4 1884.0 195.8 C1881.3 193.3 1880.4 191.4 1879.0 189.2 C1877.6 186.9 1877.1 184.4 1875.7 182.5 C1874.3 180.5 1873.2 178.8 1870.7 177.4 C1868.1 176.0 1863.1 173.8 1860.6 174.1 C1858.1 174.4 1856.7 176.6 1855.6 179.1 C1854.5 181.6 1853.9 186.4 1853.9 189.2 C1853.9 191.9 1854.8 193.3 1855.6 195.8 C1856.4 198.4 1857.5 201.4 1858.9 204.2 C1860.3 207.0 1861.5 209.8 1864.0 212.6 C1866.5 215.4 1870.1 219.0 1874.0 220.9 C1877.9 222.9 1883.8 222.9 1887.4 224.3 C1891.0 225.7 1893.5 227.1 1895.8 229.3 C1898.0 231.5 1898.5 235.2 1900.8 237.7 C1903.0 240.2 1906.1 242.7 1909.1 244.4 C1912.2 246.0 1916.4 246.0 1919.2 247.7 C1922.0 249.4 1924.5 252.2 1925.9 254.4 C1927.3 256.6 1928.4 258.9 1927.5 261.1 C1926.7 263.3 1923.6 266.7 1920.8 267.8 C1918.1 268.9 1914.2 268.3 1910.8 267.8 C1907.5 267.2 1904.4 265.8 1900.8 264.4 C1897.1 263.0 1893.0 261.1 1889.1 259.4 C1885.2 257.8 1881.3 256.1 1877.3 254.4 C1873.4 252.7 1868.7 250.8 1865.6 249.4 C1862.6 248.0 1860.9 247.7 1858.9 246.0 C1857.0 244.4 1855.9 241.0 1853.9 239.3 C1852.0 237.7 1849.7 236.8 1847.2 236.0 C1844.7 235.2 1841.1 233.8 1838.9 234.3 C1836.6 234.9 1835.0 237.1 1833.8 239.3 C1832.7 241.6 1833.3 245.8 1832.2 247.7 C1831.1 249.7 1829.1 250.2 1827.2 251.1 C1825.2 251.9 1822.4 251.3 1820.5 252.7 C1818.5 254.1 1816.3 256.9 1815.4 259.4 C1814.6 261.9 1816.0 265.3 1815.4 267.8 C1814.9 270.3 1814.6 273.1 1812.1 274.5 C1809.6 275.9 1804.0 276.4 1800.4 276.2 C1796.8 275.9 1792.9 274.5 1790.3 272.8 C1787.8 271.1 1786.7 269.7 1785.3 266.1 C1783.9 262.5 1782.3 255.0 1782.0 251.1 C1781.7 247.2 1782.8 245.2 1783.7 242.7 C1784.5 240.2 1787.3 238.2 1787.0 236.0 C1786.7 233.8 1783.1 231.5 1782.0 229.3 C1780.9 227.1 1779.8 224.6 1780.3 222.6 C1780.9 220.7 1782.8 218.4 1785.3 217.6 C1787.8 216.8 1791.7 216.8 1795.4 217.6 C1799.0 218.4 1803.7 222.3 1807.1 222.6 C1810.4 222.9 1813.2 221.2 1815.4 219.3 C1817.7 217.3 1819.1 214.0 1820.5 210.9 C1821.9 207.8 1823.5 204.2 1823.8 200.9 C1824.1 197.5 1822.7 193.9 1822.1 190.8 C1821.6 187.8 1821.9 185.0 1820.5 182.5 C1819.1 180.0 1816.6 177.4 1813.8 175.8 C1811.0 174.1 1807.1 172.8 1803.7 172.4 C1800.4 172.0 1796.5 172.7 1793.7 173.3 C1790.9 173.8 1789.0 174.8 1787.0 175.8 C1785.0 176.7 1781.7 176.9 1782.0 179.1 C1782.3 181.3 1786.4 187.2 1788.7 189.2 C1790.9 191.1 1794.3 190.5 1795.4 190.8"/>
<path d="M1793.7 173.3 C1791.5 173.4 1784.2 173.1 1780.3 174.1 C1776.4 175.1 1772.8 176.6 1770.3 179.1 C1767.8 181.6 1766.4 186.1 1765.3 189.2 C1764.1 192.2 1765.0 195.6 1763.6 197.5 C1762.2 199.5 1760.0 200.3 1756.9 200.9 C1753.8 201.4 1748.5 200.0 1745.2 200.9 C1741.8 201.7 1738.9 203.4 1736.8 205.9 C1734.7 208.4 1733.0 212.6 1732.6 215.9 C1732.2 219.3 1732.8 223.7 1734.3 226.0 C1735.8 228.2 1739.5 227.6 1741.8 229.3 C1744.2 231.0 1747.1 233.2 1748.5 236.0 C1749.9 238.8 1750.1 242.1 1750.2 246.0 C1750.3 249.9 1749.6 254.7 1749.4 259.4 C1749.1 264.2 1749.2 270.6 1748.5 274.5 C1747.8 278.4 1747.1 280.5 1745.2 282.8 C1743.2 285.2 1739.9 287.3 1736.8 288.7 C1733.7 290.1 1729.8 291.9 1726.8 291.2 C1723.7 290.5 1720.5 287.3 1718.4 284.5 C1716.3 281.7 1714.5 277.5 1714.2 274.5 C1713.9 271.4 1715.5 268.6 1716.7 266.1 C1718.0 263.6 1720.9 262.8 1721.8 259.4 C1722.6 256.1 1722.6 249.4 1721.8 246.0 C1720.9 242.7 1719.0 241.0 1716.7 239.3 C1714.5 237.7 1710.6 236.8 1708.4 236.0 C1706.1 235.2 1704.2 234.6 1703.3 234.3"/>
<path d="M1838.9 234.3 C1840.0 237.1 1843.3 246.3 1845.6 251.1 C1847.8 255.8 1849.7 259.1 1852.3 262.8 C1854.8 266.4 1857.0 270.6 1860.6 272.8 C1864.2 275.0 1870.4 274.8 1874.0 276.2 C1877.6 277.5 1880.1 278.9 1882.4 281.2 C1884.6 283.4 1886.8 287.3 1887.4 289.5 C1887.9 291.8 1888.5 293.7 1885.7 294.6 C1882.9 295.4 1876.0 294.8 1870.7 294.6 C1865.4 294.3 1858.7 292.9 1853.9 292.9 C1849.2 292.9 1845.0 293.2 1842.2 294.6 C1839.4 296.0 1838.3 298.2 1837.2 301.3 C1836.1 304.3 1836.1 309.3 1835.5 313.0 C1835.0 316.6 1833.8 319.1 1833.8 323.0 C1833.8 326.9 1835.2 334.2 1835.5 336.4"/>
<path d="M1750.2 336.4 C1751.9 335.5 1756.9 332.5 1760.2 331.4 C1763.6 330.3 1767.5 332.2 1770.3 329.7 C1773.1 327.2 1774.7 320.2 1777.0 316.3 C1779.2 312.4 1780.9 308.5 1783.7 306.3 C1786.4 304.0 1790.3 303.2 1793.7 302.9 C1797.0 302.6 1800.9 302.9 1803.7 304.6 C1806.5 306.3 1809.0 309.9 1810.4 313.0 C1811.8 316.0 1812.1 319.7 1812.1 323.0 C1812.1 326.3 1811.3 330.8 1810.4 333.0 C1809.6 335.3 1807.6 335.8 1807.1 336.4"/>
<path d="M1850.6 319.7 C1852.3 319.1 1857.3 316.6 1860.6 316.3 C1864.0 316.0 1867.9 316.6 1870.7 318.0 C1873.4 319.4 1876.0 321.6 1877.3 324.7 C1878.7 327.7 1878.7 334.4 1879.0 336.4"/>
<path d="M1910.8 336.4 C1911.1 333.6 1911.9 324.7 1912.5 319.7 C1913.0 314.6 1912.5 309.6 1914.2 306.3 C1915.8 302.9 1919.2 301.3 1922.5 299.6 C1925.9 297.9 1930.3 297.6 1934.2 296.2 C1938.1 294.8 1942.0 292.6 1945.9 291.2 C1949.8 289.8 1954.6 287.6 1957.7 287.9 C1960.7 288.1 1963.0 289.8 1964.3 292.9 C1965.7 296.0 1965.5 301.5 1966.0 306.3 C1966.6 311.0 1967.4 316.3 1967.7 321.3 C1968.0 326.3 1967.7 333.9 1967.7 336.4"/>
<path d="M1957.7 222.6 C1958.5 223.5 1960.4 226.0 1962.7 227.6 C1964.9 229.3 1968.0 232.4 1971.0 232.7 C1974.1 232.9 1978.8 231.0 1981.1 229.3 C1983.3 227.6 1983.3 224.8 1984.4 222.6 C1985.5 220.4 1987.2 217.0 1987.8 215.9"/>
<path d="M1984.4 162.4 C1985.8 163.5 1990.0 168.0 1992.8 169.1 C1995.6 170.2 1998.9 170.2 2001.2 169.1 C2003.4 168.0 2005.1 165.7 2006.2 162.4 C2007.3 159.0 2007.8 153.7 2007.8 149.0 C2007.8 144.3 2006.5 136.5 2006.2 133.9"/>
<path d="M1974.4 262.8 C1975.5 265.0 1977.7 273.9 1981.1 276.2 C1984.4 278.4 1990.3 276.7 1994.5 276.2 C1998.6 275.6 2004.2 273.4 2006.2 272.8"/>
<path d="M1997.8 302.9 C1998.9 303.8 2002.8 305.7 2004.5 307.9 C2006.2 310.2 2007.3 314.9 2007.8 316.3"/>
<path d="M1984.4 78.7 C1986.1 79.3 1991.1 82.1 1994.5 82.1 C1997.8 82.1 2002.8 79.3 2004.5 78.7"/>
</g>
<g fill="#33ff33" filter="url(#glow2)">
<circle cx="1768.7" cy="80.4" r="1.8"/>
<circle cx="1783.8" cy="69.4" r="1.7"/>
<circle cx="1795.9" cy="76.8" r="1.2"/>
<circle cx="1803.2" cy="91.2" r="1.9"/>
<circle cx="1825.2" cy="94.8" r="1.8"/>
<circle cx="1832.1" cy="77.2" r="1.5"/>
<circle cx="1864.1" cy="83.2" r="1.6"/>
<circle cx="1883.1" cy="91.0" r="1.4"/>
<circle cx="1929.5" cy="76.4" r="1.7"/>
<circle cx="1926.1" cy="91.1" r="1.8"/>
<circle cx="1923.0" cy="112.6" r="1.6"/>
<circle cx="1947.4" cy="109.6" r="1.2"/>
<circle cx="1953.0" cy="124.9" r="1.3"/>
<circle cx="1959.5" cy="135.7" r="1.9"/>
<circle cx="1976.0" cy="119.9" r="1.4"/>
<circle cx="1962.5" cy="116.3" r="1.6"/>
<circle cx="1770.5" cy="86.5" r="1.9"/>
<circle cx="1780.3" cy="108.8" r="1.9"/>
<circle cx="1798.4" cy="117.9" r="1.4"/>
<circle cx="1807.2" cy="131.6" r="1.3"/>
<circle cx="1788.5" cy="137.8" r="1.2"/>
<circle cx="1766.0" cy="141.1" r="1.6"/>
<circle cx="1745.2" cy="135.2" r="1.7"/>
<circle cx="1743.6" cy="106.5" r="1.4"/>
<circle cx="1721.2" cy="104.1" r="1.5"/>
<circle cx="1707.5" cy="116.6" r="1.5"/>
<circle cx="1707.3" cy="140.2" r="1.2"/>
<circle cx="1723.8" cy="151.2" r="1.2"/>
<circle cx="1725.4" cy="166.5" r="1.8"/>
<circle cx="1714.1" cy="181.2" r="1.8"/>
<circle cx="1865.5" cy="136.3" r="1.2"/>
<circle cx="1879.9" cy="121.3" r="1.3"/>
<circle cx="1903.2" cy="134.5" r="1.3"/>
<circle cx="1916.5" cy="143.5" r="1.9"/>
<circle cx="1935.0" cy="150.4" r="1.4"/>
<circle cx="1952.0" cy="148.3" r="1.6"/>
<circle cx="1962.7" cy="128.9" r="1.3"/>
<circle cx="1966.9" cy="115.3" r="1.8"/>
<circle cx="1981.4" cy="123.3" r="1.2"/>
<circle cx="1981.6" cy="140.5" r="1.3"/>
<circle cx="1979.4" cy="156.8" r="1.6"/>
<circle cx="1872.9" cy="149.8" r="1.8"/>
<circle cx="1895.2" cy="158.7" r="1.4"/>
<circle cx="1910.0" cy="175.1" r="1.3"/>
<circle cx="1933.6" cy="178.3" r="1.3"/>
<circle cx="1954.1" cy="188.6" r="1.9"/>
<circle cx="1938.0" cy="196.6" r="1.2"/>
<circle cx="1931.5" cy="218.4" r="1.6"/>
<circle cx="1923.1" cy="223.2" r="1.4"/>
<circle cx="1906.8" cy="206.8" r="1.8"/>
<circle cx="1887.0" cy="198.4" r="1.5"/>
<circle cx="1873.6" cy="179.7" r="1.8"/>
<circle cx="1854.2" cy="185.1" r="1.5"/>
<circle cx="1863.2" cy="211.7" r="1.3"/>
<circle cx="1877.9" cy="222.3" r="1.9"/>
<circle cx="1895.8" cy="229.3" r="1.8"/>
<circle cx="1909.1" cy="244.4" r="1.5"/>
<circle cx="1927.5" cy="261.1" r="1.8"/>
<circle cx="1903.9" cy="265.7" r="1.5"/>
<circle cx="1880.9" cy="255.9" r="1.8"/>
<circle cx="1866.6" cy="249.8" r="1.5"/>
<circle cx="1854.5" cy="239.9" r="1.7"/>
<circle cx="1834.6" cy="238.0" r="1.4"/>
<circle cx="1821.1" cy="252.4" r="1.3"/>
<circle cx="1813.4" cy="273.5" r="1.9"/>
<circle cx="1790.3" cy="272.8" r="1.6"/>
<circle cx="1783.2" cy="258.7" r="1.4"/>
<circle cx="1786.8" cy="237.3" r="1.4"/>
<circle cx="1788.9" cy="217.0" r="1.8"/>
<circle cx="1807.1" cy="222.6" r="1.8"/>
<circle cx="1822.6" cy="206.0" r="1.7"/>
<circle cx="1821.7" cy="187.3" r="1.7"/>
<circle cx="1809.0" cy="173.6" r="1.7"/>
<circle cx="1785.7" cy="176.3" r="1.5"/>
<circle cx="1787.6" cy="173.4" r="1.4"/>
<circle cx="1769.5" cy="179.9" r="1.7"/>
<circle cx="1764.3" cy="195.4" r="1.2"/>
<circle cx="1745.2" cy="200.9" r="1.4"/>
<circle cx="1732.5" cy="217.0" r="1.5"/>
<circle cx="1744.1" cy="231.0" r="1.7"/>
<circle cx="1750.2" cy="247.2" r="1.4"/>
<circle cx="1749.1" cy="265.6" r="1.7"/>
<circle cx="1743.1" cy="284.9" r="1.4"/>
<circle cx="1726.8" cy="291.2" r="1.8"/>
<circle cx="1715.2" cy="278.5" r="1.9"/>
<circle cx="1721.0" cy="261.2" r="1.6"/>
<circle cx="1721.5" cy="245.1" r="1.3"/>
<circle cx="1703.3" cy="234.3" r="1.9"/>
<circle cx="1843.3" cy="245.9" r="1.7"/>
<circle cx="1853.0" cy="263.9" r="1.3"/>
<circle cx="1868.8" cy="275.0" r="1.6"/>
<circle cx="1884.9" cy="284.4" r="1.5"/>
<circle cx="1877.4" cy="294.9" r="1.7"/>
<circle cx="1857.0" cy="293.0" r="1.7"/>
<circle cx="1838.2" cy="298.7" r="1.3"/>
<circle cx="1834.2" cy="327.2" r="1.7"/>
<circle cx="1766.5" cy="331.0" r="1.6"/>
<circle cx="1777.6" cy="315.1" r="1.5"/>
<circle cx="1801.0" cy="303.4" r="1.2"/>
<circle cx="1812.0" cy="325.1" r="1.4"/>
<circle cx="1868.9" cy="317.2" r="1.2"/>
<circle cx="1912.1" cy="323.1" r="1.6"/>
<circle cx="1919.6" cy="301.1" r="1.4"/>
<circle cx="1940.1" cy="293.7" r="1.2"/>
<circle cx="1956.7" cy="287.9" r="1.4"/>
<circle cx="1966.0" cy="306.3" r="1.3"/>
<circle cx="1967.8" cy="329.8" r="1.5"/>
<circle cx="1975.3" cy="232.1" r="1.3"/>
<circle cx="1987.3" cy="216.8" r="1.4"/>
<circle cx="1991.9" cy="168.6" r="1.8"/>
<circle cx="2005.4" cy="164.3" r="1.8"/>
<circle cx="2007.1" cy="140.6" r="1.5"/>
<circle cx="1984.7" cy="277.2" r="1.6"/>
<circle cx="2005.5" cy="273.0" r="1.9"/>
<circle cx="2005.0" cy="308.7" r="1.8"/>
<circle cx="1706.7" cy="183.3" r="2.3"/>
<circle cx="1745.2" cy="246.0" r="1.7"/>
<circle cx="1743.5" cy="273.6" r="2.0"/>
<circle cx="1720.1" cy="282.8" r="1.7"/>
<circle cx="1887.4" cy="292.9" r="1.7"/>
<circle cx="1951.0" cy="179.1" r="2.3"/>
<circle cx="1929.2" cy="222.6" r="2.3"/>
<circle cx="1880.7" cy="191.7" r="1.7"/>
<circle cx="1890.7" cy="153.2" r="1.3"/>
<circle cx="1974.4" cy="115.5" r="1.3"/>
<circle cx="1977.7" cy="132.3" r="1.3"/>
</g></g>
<rect x="1327" y="315.6" width="35.0" height="5.3" fill="#fff"/>
<rect x="1638.2" y="315.6" width="35.6" height="5.3" fill="#fff"/>
<rect x="1958" y="315.6" width="35.0" height="5.3" fill="#fff"/>
<text x="966.53" y="408.50" font-size="67.14" font-weight="bold" fill="#000" textLength="50.06" lengthAdjust="spacingAndGlyphs">C</text>
<text x="1299.77" y="435.04" font-size="47.00" font-weight="bold" fill="#000" textLength="18.29" lengthAdjust="spacingAndGlyphs">*</text>
<text x="1320.91" y="435.04" font-size="47.00" font-weight="bold" fill="#000" textLength="18.29" lengthAdjust="spacingAndGlyphs">*</text>
<text x="1342.06" y="435.04" font-size="47.00" font-weight="bold" fill="#000" textLength="18.29" lengthAdjust="spacingAndGlyphs">*</text>
<text x="1363.21" y="435.04" font-size="47.00" font-weight="bold" fill="#000" textLength="18.29" lengthAdjust="spacingAndGlyphs">*</text>
<text x="1253.07" y="475.04" font-size="47.00" font-weight="bold" fill="#000" textLength="18.29" lengthAdjust="spacingAndGlyphs">*</text>
<text x="1274.25" y="475.04" font-size="47.00" font-weight="bold" fill="#000" textLength="18.29" lengthAdjust="spacingAndGlyphs">*</text>
<text x="1295.43" y="475.04" font-size="47.00" font-weight="bold" fill="#000" textLength="18.29" lengthAdjust="spacingAndGlyphs">*</text>
<text x="1316.61" y="475.04" font-size="47.00" font-weight="bold" fill="#000" textLength="18.29" lengthAdjust="spacingAndGlyphs">*</text>
<path d="M1234.5 448 V428.8 H1443.2 V448" fill="none" stroke="#000" stroke-width="4.2"/>
<path d="M1236.3 473 V464 H1341.9 V474.5" fill="none" stroke="#000" stroke-width="4.2"/>
<rect x="1199.2" y="542" width="69.9" height="178" fill="#616161" stroke="#353535" stroke-width="3.6"/>
<rect x="1303.8" y="612.5" width="68.3" height="107.5" fill="#a7a7ab" stroke="#111" stroke-width="3.8"/>
<rect x="1412" y="694" width="69.3" height="26" fill="#fff" stroke="#000" stroke-width="4"/>
<g stroke="#333" stroke-width="3.6" fill="none"><path d="M1234.5 511 V569.2 M1216.6 511 H1252.4 M1216.6 569.2 H1252.4"/></g>
<g stroke="#111" stroke-width="3.8" fill="none"><path d="M1337.5 591.5 V628.5 M1319.5 591.5 H1355.5 M1319.5 628.5 H1355.5"/></g>
<g stroke="#000" stroke-width="3.8" fill="none"><path d="M1447 680.8 V702 M1429 680.8 H1464.8 M1429 702 H1464.8"/></g>
<path d="M1150 478.7 V722.5 M1147.7 720.3 H1501.3" fill="none" stroke="#000" stroke-width="4.6"/>
<path d="M1136.8 481.4 H1150" stroke="#000" stroke-width="4.2"/>
<path d="M1136.8 531.5 H1150" stroke="#000" stroke-width="4.2"/>
<path d="M1136.8 583.4 H1150" stroke="#000" stroke-width="4.2"/>
<path d="M1136.8 635 H1150" stroke="#000" stroke-width="4.2"/>
<path d="M1136.8 686.7 H1150" stroke="#000" stroke-width="4.2"/>
<path d="M1234.5 720 V728.5" stroke="#000" stroke-width="4"/>
<path d="M1337 720 V728.5" stroke="#000" stroke-width="4"/>
<path d="M1446.7 720 V728.5" stroke="#000" stroke-width="4"/>
<text x="1084.24" y="496.10" font-size="32.14" font-weight="bold" fill="#000" textLength="50.38" lengthAdjust="spacingAndGlyphs">150</text>
<text x="1083.03" y="544.90" font-size="32.14" font-weight="bold" fill="#000" textLength="50.48" lengthAdjust="spacingAndGlyphs">120</text>
<text x="1099.75" y="594.20" font-size="31.43" font-weight="bold" fill="#000" textLength="33.42" lengthAdjust="spacingAndGlyphs">90</text>
<text x="1101.84" y="646.30" font-size="31.43" font-weight="bold" fill="#000" textLength="33.53" lengthAdjust="spacingAndGlyphs">60</text>
<text x="1102.15" y="696.90" font-size="31.57" font-weight="bold" fill="#000" textLength="33.21" lengthAdjust="spacingAndGlyphs">30</text>
<text x="1124.24" y="739.90" font-size="32.29" font-weight="bold" fill="#000" textLength="17.56" lengthAdjust="spacingAndGlyphs">0</text>
<text x="1190.35" y="499.60" font-size="32.17" font-weight="bold" fill="#000" textLength="75.51" lengthAdjust="spacingAndGlyphs">111.5</text>
<text x="1317.25" y="584.10" font-size="31.71" font-weight="bold" fill="#000" textLength="58.54" lengthAdjust="spacingAndGlyphs">67.4</text>
<text x="1417.02" y="678.20" font-size="32.00" font-weight="bold" fill="#000" textLength="59.29" lengthAdjust="spacingAndGlyphs">17.3</text>
<text transform="translate(1069.60 708.00) rotate(-90)" x="-1.17" y="0" font-size="31.30" font-weight="bold" fill="#000" textLength="110.46" lengthAdjust="spacingAndGlyphs">Granule</text>
<text transform="translate(1069.60 586.20) rotate(-90)" x="-2.00" y="0" font-size="31.30" font-weight="bold" fill="#000" textLength="129.62" lengthAdjust="spacingAndGlyphs">numbers</text>
<text x="1207.50" y="758.90" font-size="32.17" font-weight="bold" fill="#000" textLength="46.79" lengthAdjust="spacingAndGlyphs">WT</text>
<text x="1311.60" y="758.90" font-size="32.43" font-weight="bold" fill="#000" textLength="58.46" lengthAdjust="spacingAndGlyphs">S5A</text>
<text x="1427.10" y="758.90" font-size="32.43" font-weight="bold" fill="#000" textLength="58.10" lengthAdjust="spacingAndGlyphs">S5D</text>
<rect x="1202" y="769.9" width="270.5" height="4.6" fill="#000"/>
<text x="1278.61" y="808.30" font-size="34.43" font-weight="bold" fill="#000" textLength="106.47" lengthAdjust="spacingAndGlyphs">GFP-P</text>
<text x="1522.62" y="416.50" font-size="70.58" font-weight="bold" fill="#000" textLength="50.85" lengthAdjust="spacingAndGlyphs">D</text>
<rect x="1623.7" y="386.2" width="22" height="18.4" fill="#616161" stroke="#000" stroke-width="4.4"/>
<rect x="1837.2" y="386.2" width="22" height="18.4" fill="#d9d9d9" stroke="#000" stroke-width="4.4"/>
<text x="1663.37" y="407.40" font-size="32.47" font-weight="bold" fill="#000" textLength="69.83" lengthAdjust="spacingAndGlyphs">0.2-2</text>
<text x="1742.92" y="407.40" font-size="33.86" font-weight="bold" fill="#000" textLength="46.80" lengthAdjust="spacingAndGlyphs">µm</text>
<text x="1788.23" y="396.30" font-size="23.19" font-weight="bold" fill="#000" textLength="12.17" lengthAdjust="spacingAndGlyphs">2</text>
<text x="1872.06" y="405.00" font-size="32.95" font-weight="bold" fill="#000" textLength="18.16" lengthAdjust="spacingAndGlyphs">&gt;</text>
<text x="1899.60" y="407.40" font-size="30.25" font-weight="bold" fill="#000" textLength="15.87" lengthAdjust="spacingAndGlyphs">2</text>
<text x="1925.72" y="407.40" font-size="33.86" font-weight="bold" fill="#000" textLength="46.80" lengthAdjust="spacingAndGlyphs">µm</text>
<text x="1971.15" y="396.30" font-size="22.75" font-weight="bold" fill="#000" textLength="11.93" lengthAdjust="spacingAndGlyphs">2</text>
<text x="1809.57" y="467.04" font-size="47.00" font-weight="bold" fill="#000" textLength="18.29" lengthAdjust="spacingAndGlyphs">*</text>
<text x="1830.41" y="467.04" font-size="47.00" font-weight="bold" fill="#000" textLength="18.29" lengthAdjust="spacingAndGlyphs">*</text>
<text x="1851.26" y="467.04" font-size="47.00" font-weight="bold" fill="#000" textLength="18.29" lengthAdjust="spacingAndGlyphs">*</text>
<text x="1872.11" y="467.04" font-size="47.00" font-weight="bold" fill="#000" textLength="18.29" lengthAdjust="spacingAndGlyphs">*</text>
<path d="M1781.8 472.5 V457.2 H1911.7 V472.8" fill="none" stroke="#000" stroke-width="4.2"/>
<rect x="1750.4" y="486.6" width="72.6" height="38.0" fill="#d6d6d6" stroke="#000" stroke-width="3.6"/>
<rect x="1750.4" y="524.6" width="72.6" height="196.4" fill="#616161" stroke="#000" stroke-width="3.6"/>
<rect x="1883.1" y="486.6" width="69.5" height="76.9" fill="#d6d6d6" stroke="#000" stroke-width="3.6"/>
<rect x="1883.1" y="563.5" width="69.5" height="157.5" fill="#616161" stroke="#000" stroke-width="3.6"/>
<g stroke="#111" stroke-width="3.8" fill="none"><path d="M1787.2 513.5 V532.8 M1768.3 513.5 H1805.1 M1768.3 532.8 H1805.1"/><path d="M1917.8 554 V570.5 M1899.3 554 H1936.3 M1899.3 570.5 H1936.3"/></g>
<path d="M1710.5 486.2 V724.5 M1708.3 722.2 H1996.3" fill="none" stroke="#000" stroke-width="4.4"/>
<path d="M1700.2 487.5 H1710.5" stroke="#000" stroke-width="4.2"/>
<path d="M1700.2 547.6 H1710.5" stroke="#000" stroke-width="4.2"/>
<path d="M1700.2 605.6 H1710.5" stroke="#000" stroke-width="4.2"/>
<path d="M1700.2 663.9 H1710.5" stroke="#000" stroke-width="4.2"/>
<path d="M1787.3 721 V730" stroke="#000" stroke-width="4"/>
<path d="M1916 721 V730" stroke="#000" stroke-width="4"/>
<text x="1652.57" y="503.20" font-size="31.00" font-weight="bold" fill="#000" textLength="49.52" lengthAdjust="spacingAndGlyphs">100</text>
<text x="1662.89" y="563.40" font-size="31.16" font-weight="bold" fill="#000" textLength="32.30" lengthAdjust="spacingAndGlyphs">75</text>
<text x="1663.33" y="623.40" font-size="31.14" font-weight="bold" fill="#000" textLength="32.30" lengthAdjust="spacingAndGlyphs">50</text>
<text x="1661.85" y="679.80" font-size="31.00" font-weight="bold" fill="#000" textLength="33.37" lengthAdjust="spacingAndGlyphs">25</text>
<text x="1680.41" y="734.70" font-size="31.14" font-weight="bold" fill="#000" textLength="15.10" lengthAdjust="spacingAndGlyphs">0</text>
<text x="1754.84" y="512.30" font-size="31.57" font-weight="bold" fill="#000" textLength="58.65" lengthAdjust="spacingAndGlyphs">16.4</text>
<text x="1758.59" y="620.30" font-size="31.43" font-weight="bold" fill="#000" textLength="59.01" lengthAdjust="spacingAndGlyphs">83.6</text>
<text x="1887.74" y="531.60" font-size="31.43" font-weight="bold" fill="#000" textLength="58.85" lengthAdjust="spacingAndGlyphs">33.3</text>
<text x="1885.34" y="646.10" font-size="31.43" font-weight="bold" fill="#000" textLength="58.70" lengthAdjust="spacingAndGlyphs">66.7</text>
<text transform="translate(1631.20 694.50) rotate(-90)" x="-1.96" y="0" font-size="31.59" font-weight="bold" fill="#000" textLength="162.57" lengthAdjust="spacingAndGlyphs">Percentage</text>
<text transform="translate(1631.20 518.90) rotate(-90)" x="-1.57" y="0" font-size="31.59" font-weight="bold" fill="#000" textLength="48.85" lengthAdjust="spacingAndGlyphs">(%)</text>
<text x="1761.00" y="758.00" font-size="30.72" font-weight="bold" fill="#000" textLength="44.98" lengthAdjust="spacingAndGlyphs">WT</text>
<text x="1893.10" y="758.00" font-size="30.71" font-weight="bold" fill="#000" textLength="58.05" lengthAdjust="spacingAndGlyphs">S5A</text>
<rect x="1742.5" y="769.6" width="226.2" height="4.8" fill="#000"/>
<text x="1801.63" y="808.30" font-size="31.14" font-weight="bold" fill="#000" textLength="105.03" lengthAdjust="spacingAndGlyphs">GFP-P</text>
<text x="9.22" y="888.10" font-size="74.64" font-weight="bold" fill="#000" textLength="45.92" lengthAdjust="spacingAndGlyphs">E</text>
<path d="M142.2 975.8 C139.8 976.2 133.1 976.3 128.0 978.1 C122.9 979.9 116.9 983.0 111.4 986.4 C105.9 989.8 99.9 993.9 94.8 998.3 C89.7 1002.6 84.5 1007.4 80.6 1012.5 C76.6 1017.6 73.7 1023.6 71.1 1029.1 C68.5 1034.6 66.5 1041.0 65.2 1045.7 C63.9 1050.4 63.5 1053.5 63.5 1057.5 C63.5 1061.5 63.9 1065.5 65.2 1069.4 C66.5 1073.4 68.5 1077.7 71.1 1081.2 C73.7 1084.8 76.6 1088.1 80.6 1090.7 C84.5 1093.3 90.1 1095.4 94.8 1096.6 C99.5 1097.8 104.7 1096.8 109.0 1097.8 C113.3 1098.8 118.5 1101.0 120.9 1102.6 C123.3 1104.2 121.9 1106.3 123.3 1107.3 C124.7 1108.3 127.8 1108.9 129.2 1108.5 C130.6 1108.1 130.1 1106.6 131.5 1104.8 C132.9 1103.0 134.1 1099.4 137.5 1097.8 C140.9 1096.2 147.0 1096.2 151.7 1095.4 C156.4 1094.6 161.6 1094.2 165.9 1093.0 C170.2 1091.8 174.4 1091.0 177.8 1088.3 C181.2 1085.5 184.2 1081.6 186.1 1076.5 C188.0 1071.4 189.0 1063.0 189.2 1057.5 C189.4 1052.0 188.4 1048.4 187.3 1043.3 C186.2 1038.2 184.5 1032.2 182.5 1026.7 C180.5 1021.2 178.6 1015.2 175.4 1010.1 C172.2 1005.0 167.4 1000.0 163.5 995.9 C159.6 991.8 155.6 987.9 151.7 985.3 C147.8 982.7 141.4 982.1 139.8 980.5 C138.2 978.9 141.8 976.6 142.2 975.8 Z" fill="#548c38"/>
<g fill="none" stroke="#2e5a1d" stroke-width="2.8" stroke-linecap="round">
<path d="M129.2 981.7 C129.1 988.1 128.8 1007.0 128.5 1020.0 C128.2 1033.0 127.8 1045.8 127.5 1060.0 C127.2 1074.2 126.9 1097.5 126.8 1105.0"/>
<path d="M126.8 1100.2 C124.2 1097.8 116.7 1090.3 111.4 1086.0 C106.1 1081.7 99.5 1077.8 94.8 1074.2 C90.1 1070.7 86.0 1067.7 83.0 1064.7 C80.0 1061.7 78.0 1057.8 77.0 1056.4"/>
<path d="M126.8 1071.8 C124.6 1069.4 117.9 1062.6 113.8 1057.5 C109.7 1052.4 105.1 1046.1 101.9 1041.0 C98.7 1035.9 96.2 1030.9 94.8 1026.7 C93.4 1022.6 93.8 1017.9 93.6 1016.1"/>
<path d="M128.0 1097.8 C130.4 1095.4 136.7 1088.3 142.2 1083.6 C147.7 1078.9 156.4 1073.8 161.2 1069.4 C165.9 1065.1 168.3 1061.5 170.7 1057.5 C173.1 1053.5 174.6 1047.7 175.4 1045.7"/>
<path d="M128.0 1067.0 C130.0 1064.6 135.9 1057.5 139.8 1052.8 C143.8 1048.1 148.1 1043.7 151.7 1038.6 C155.3 1033.5 159.6 1024.8 161.2 1022.0"/>
<path d="M128.0 1031.5 C126.4 1030.7 121.5 1027.7 118.5 1026.7 C115.5 1025.7 111.6 1025.8 110.2 1025.6"/>
<path d="M126.8 1017.3 C125.4 1016.1 121.8 1012.1 118.5 1010.1 C115.2 1008.1 108.7 1006.2 106.7 1005.4"/>
<path d="M128.0 1029.1 C129.6 1028.3 135.1 1025.8 137.5 1024.4 C139.9 1023.0 141.4 1021.4 142.2 1020.8"/>
<path d="M129.2 1010.1 C130.6 1009.3 135.1 1006.8 137.5 1005.4 C139.9 1004.0 142.4 1002.4 143.4 1001.8"/>
<path d="M128.0 995.9 C126.8 995.1 122.5 992.4 120.9 991.2 C119.3 990.0 118.9 989.2 118.5 988.8"/>
</g>
<clipPath id="tc2641000"><path d="M266.7 1010.6 V1071.5 C266.7 1111.6 278.9 1115.6 284.9 1115.6 C290.9 1115.6 303.0 1111.6 303.0 1071.5 V1010.6 Z"/></clipPath>
<path d="M266.7 1010.6 V1071.5 C266.7 1111.6 278.9 1115.6 284.9 1115.6 C290.9 1115.6 303.0 1111.6 303.0 1071.5 V1010.6 Z" fill="#dae3f3"/>
<g clip-path="url(#tc2641000)">
</g>
<path d="M266.7 1010.6 V1071.5 C266.7 1111.6 278.9 1115.6 284.9 1115.6 C290.9 1115.6 303.0 1111.6 303.0 1071.5 V1010.6 Z" fill="none" stroke="#000" stroke-width="3"/>
<rect x="265.8" y="1001.7" width="38.5" height="7.4" fill="#dae3f3" stroke="#000" stroke-width="3"/>
<path d="M279 1043 L300.5 1042 L300.5 1078 Q296 1084 288 1084.5 L278 1086 L278.5 1066 L277.8 1050 Z" fill="#548c38"/>
<clipPath id="tc427999"><path d="M429.5 1009.2 V1070.4 C429.5 1110.7 441.1 1114.7 447.1 1114.7 C453.1 1114.7 464.6 1110.7 464.6 1070.4 V1009.2 Z"/></clipPath>
<path d="M429.5 1009.2 V1070.4 C429.5 1110.7 441.1 1114.7 447.1 1114.7 C453.1 1114.7 464.6 1110.7 464.6 1070.4 V1009.2 Z" fill="#dae3f3"/>
<g clip-path="url(#tc427999)">
<rect x="427.5" y="1018.0" width="39.1" height="100.7" fill="#a9d18e"/>
<rect x="427.5" y="1016.1" width="39.1" height="2.8" fill="#000"/>
</g>
<path d="M429.5 1009.2 V1070.4 C429.5 1110.7 441.1 1114.7 447.1 1114.7 C453.1 1114.7 464.6 1110.7 464.6 1070.4 V1009.2 Z" fill="none" stroke="#000" stroke-width="3"/>
<rect x="428.6" y="1000.7" width="38.5" height="7.0" fill="#dae3f3" stroke="#000" stroke-width="3"/>
<clipPath id="tc6221003"><path d="M624.3 1013.4 V1074.2 C624.3 1114.2 636.2 1118.2 642.2 1118.2 C648.2 1118.2 660.1 1114.2 660.1 1074.2 V1013.4 Z"/></clipPath>
<path d="M624.3 1013.4 V1074.2 C624.3 1114.2 636.2 1118.2 642.2 1118.2 C648.2 1118.2 660.1 1114.2 660.1 1074.2 V1013.4 Z" fill="#dae3f3"/>
<g clip-path="url(#tc6221003)">
<rect x="622.3" y="1021.5" width="39.8" height="100.7" fill="#c5e0b4"/>
<rect x="622.3" y="1092.9" width="39.8" height="29.3" fill="#3b6426"/>
<rect x="622.3" y="1019.6" width="39.8" height="2.8" fill="#000"/>
</g>
<path d="M624.3 1013.4 V1074.2 C624.3 1114.2 636.2 1118.2 642.2 1118.2 C648.2 1118.2 660.1 1114.2 660.1 1074.2 V1013.4 Z" fill="none" stroke="#000" stroke-width="3"/>
<rect x="624.2" y="1004.8" width="37.3" height="7.1" fill="#dae3f3" stroke="#000" stroke-width="3"/>
<clipPath id="tc845885"><path d="M847.8 895.9 V956.8 C847.8 996.9 859.6 1000.9 865.6 1000.9 C871.6 1000.9 883.4 996.9 883.4 956.8 V895.9 Z"/></clipPath>
<path d="M847.8 895.9 V956.8 C847.8 996.9 859.6 1000.9 865.6 1000.9 C871.6 1000.9 883.4 996.9 883.4 956.8 V895.9 Z" fill="#dae3f3"/>
<g clip-path="url(#tc845885)">
<rect x="845.8" y="919.5" width="39.6" height="85.4" fill="#c5e0b4"/>
<rect x="845.8" y="918.1" width="39.6" height="2.8" fill="#000"/>
</g>
<path d="M847.8 895.9 V956.8 C847.8 996.9 859.6 1000.9 865.6 1000.9 C871.6 1000.9 883.4 996.9 883.4 956.8 V895.9 Z" fill="none" stroke="#000" stroke-width="3"/>
<rect x="847.0" y="887.4" width="37.3" height="7.0" fill="#dae3f3" stroke="#000" stroke-width="3"/>
<clipPath id="tc8461098"><path d="M849.0 1108.7 V1169.9 C849.0 1210.2 860.5 1214.2 866.5 1214.2 C872.5 1214.2 884.0 1210.2 884.0 1169.9 V1108.7 Z"/></clipPath>
<path d="M849.0 1108.7 V1169.9 C849.0 1210.2 860.5 1214.2 866.5 1214.2 C872.5 1214.2 884.0 1210.2 884.0 1169.9 V1108.7 Z" fill="#dae3f3"/>
<g clip-path="url(#tc8461098)">
<rect x="847.0" y="1188.0" width="39.0" height="30.2" fill="#3b6426"/>
</g>
<path d="M849.0 1108.7 V1169.9 C849.0 1210.2 860.5 1214.2 866.5 1214.2 C872.5 1214.2 884.0 1210.2 884.0 1169.9 V1108.7 Z" fill="none" stroke="#000" stroke-width="3"/>
<rect x="848.2" y="1099.5" width="37.3" height="7.7" fill="#dae3f3" stroke="#000" stroke-width="3"/>
<rect x="193.2" y="1050.2" width="38.8" height="7.6" fill="#000"/><path d="M231 1041.2 L256 1054 L231 1066.8 Z" fill="#000"/>
<rect x="314.5" y="1050.2" width="75.2" height="7.6" fill="#000"/><path d="M388.7 1041.2 L414.8 1054 L388.7 1066.8 Z" fill="#000"/>
<rect x="480.4" y="1050.9" width="113.6" height="7.6" fill="#000"/><path d="M593 1042.0 L618.6 1054.7 L593 1067.5 Z" fill="#000"/>
<path d="M688.4 1028.8 L822 962" stroke="#000" stroke-width="7.4"/>
<path d="M839.8 952.7 L815.5 953.6 L823 974.5 Z" fill="#000" stroke="#000" stroke-width="1.5" stroke-linejoin="miter"/>
<path d="M685.1 1063.9 L822 1130" stroke="#000" stroke-width="7.4"/>
<path d="M841.4 1139.2 L812.2 1140 L824.7 1117.5 Z" fill="#000" stroke="#000" stroke-width="1.5"/>
<text x="315.57" y="987.80" font-size="31.30" font-weight="bold" fill="#333333" textLength="97.98" lengthAdjust="spacingAndGlyphs">Lysate</text>
<text x="441.37" y="987.80" font-size="31.17" font-weight="bold" fill="#333333" textLength="209.45" lengthAdjust="spacingAndGlyphs">Centrifugation</text>
<text transform="translate(674.00 999.50) rotate(-24.20)" x="-0.93" y="0" font-size="29.50" font-weight="bold" fill="#333333" textLength="180.37" lengthAdjust="spacingAndGlyphs">Supernatant</text>
<text transform="translate(708.00 1113.00) rotate(25.50)" x="-1.91" y="0" font-size="29.00" font-weight="bold" fill="#333333" textLength="78.29" lengthAdjust="spacingAndGlyphs">Pellet</text>
<text x="960.75" y="887.30" font-size="70.87" font-weight="bold" fill="#000" textLength="42.76" lengthAdjust="spacingAndGlyphs">F</text>
<text x="1592.58" y="857.70" font-size="30.71" font-weight="bold" fill="#363636" textLength="93.06" lengthAdjust="spacingAndGlyphs">GFP-P</text>
<rect x="1499.3" y="869.3" width="300" height="4.6" fill="#000"/>
<text x="1309.01" y="906.50" font-size="30.62" font-weight="bold" fill="#000" textLength="54.88" lengthAdjust="spacingAndGlyphs">kDa</text>
<text x="1404.73" y="913.50" font-size="30.07" font-weight="bold" fill="#363636" textLength="77.51" lengthAdjust="spacingAndGlyphs">Mock</text>
<text x="1508.60" y="913.50" font-size="30.87" font-weight="bold" fill="#363636" textLength="45.99" lengthAdjust="spacingAndGlyphs">WT</text>
<text x="1610.69" y="913.50" font-size="31.14" font-weight="bold" fill="#363636" textLength="59.19" lengthAdjust="spacingAndGlyphs">S5A</text>
<text x="1726.30" y="913.50" font-size="31.14" font-weight="bold" fill="#363636" textLength="58.41" lengthAdjust="spacingAndGlyphs">S5D</text>
<text x="1071.56" y="979.40" font-size="36.86" font-weight="bold" fill="#363636" textLength="202.84" lengthAdjust="spacingAndGlyphs">Supernatant</text>
<text x="1191.02" y="1072.60" font-size="33.66" font-weight="bold" fill="#363636" textLength="93.43" lengthAdjust="spacingAndGlyphs">Pellet</text>
<text x="1201.64" y="1168.00" font-size="34.62" font-weight="bold" fill="#363636" textLength="82.51" lengthAdjust="spacingAndGlyphs">Total</text>
<defs>
<filter id="bl1" x="-30%" y="-80%" width="160%" height="260%"><feGaussianBlur stdDeviation="1.6"/></filter>
<filter id="bl3" x="-30%" y="-100%" width="160%" height="300%"><feGaussianBlur stdDeviation="3.5"/></filter>
<filter id="noise" x="0" y="0" width="100%" height="100%"><feTurbulence type="fractalNoise" baseFrequency="0.05" numOctaves="2" seed="3"/><feColorMatrix type="matrix" values="0 0 0 0 0.91  0 0 0 0 0.91  0 0 0 0 0.91  0 0 0 -1.2 0.9"/></filter>
</defs>
<rect x="1392.3" y="923.3" width="445.1" height="87.3" fill="#e9e9e9"/>
<rect x="1392.3" y="1022.4" width="445.1" height="90.5" fill="#ececec"/>
<rect x="1392.3" y="1122.3" width="445.1" height="89.7" fill="#f3f3f3"/>
<path d="M1515.0 978.5 Q1545.0 978.5 1575.0 978.5 Q1581.0 978.5 1581.0 984.5 Q1581.0 990.5 1575.0 990.5 Q1545.0 990.5 1515.0 990.5 Q1509.0 990.5 1509.0 984.5 Q1509.0 978.5 1515.0 978.5 Z" fill="#9a9a9a" filter="url(#bl3)" opacity="0.55"/>
<path d="M1733.0 979.0 Q1767.0 979.0 1801.0 979.0 Q1807.0 979.0 1807.0 985.0 Q1807.0 991.0 1801.0 991.0 Q1767.0 991.0 1733.0 991.0 Q1727.0 991.0 1727.0 985.0 Q1727.0 979.0 1733.0 979.0 Z" fill="#9a9a9a" filter="url(#bl3)" opacity="0.5"/>
<path d="M1513.5 947.5 Q1545.8 950.0 1578.0 947.5 Q1586.0 947.5 1586.0 960.0 Q1586.0 972.5 1578.0 972.5 Q1545.8 970.0 1513.5 972.5 Q1505.5 972.5 1505.5 960.0 Q1505.5 947.5 1513.5 947.5 Z" fill="#000" filter="url(#bl1)" opacity="1"/>
<path d="M1620.4 976.2 Q1655.0 978.3 1689.5 976.2 Q1696.5 976.2 1696.5 983.2 Q1696.5 990.2 1689.5 990.2 Q1655.0 988.1 1620.4 990.2 Q1613.4 990.2 1613.4 983.2 Q1613.4 976.2 1620.4 976.2 Z" fill="#000" filter="url(#bl1)" opacity="1"/>
<path d="M1726.4 943.0 Q1766.8 944.8 1807.3 943.0 Q1815.3 943.0 1815.3 958.0 Q1815.3 973.0 1807.3 973.0 Q1766.8 971.2 1726.4 973.0 Q1718.4 973.0 1718.4 958.0 Q1718.4 943.0 1726.4 943.0 Z" fill="#000" filter="url(#bl1)" opacity="1"/>
<path d="M1512.0 1046.0 Q1546.0 1046.0 1580.0 1046.0 Q1584.0 1046.0 1584.0 1050.0 Q1584.0 1054.0 1580.0 1054.0 Q1546.0 1054.0 1512.0 1054.0 Q1508.0 1054.0 1508.0 1050.0 Q1508.0 1046.0 1512.0 1046.0 Z" fill="#a0a0a0" filter="url(#bl3)" opacity="0.18"/>
<path d="M1512.5 1078.3 Q1546.0 1078.3 1579.5 1078.3 Q1584.0 1078.3 1584.0 1082.8 Q1584.0 1087.3 1579.5 1087.3 Q1546.0 1087.3 1512.5 1087.3 Q1508.0 1087.3 1508.0 1082.8 Q1508.0 1078.3 1512.5 1078.3 Z" fill="#777" filter="url(#bl3)" opacity="0.7"/>
<path d="M1619.0 1042.0 Q1660.0 1042.0 1701.0 1042.0 Q1708.0 1042.0 1708.0 1049.0 Q1708.0 1056.0 1701.0 1056.0 Q1660.0 1056.0 1619.0 1056.0 Q1612.0 1056.0 1612.0 1049.0 Q1612.0 1042.0 1619.0 1042.0 Z" fill="#999" filter="url(#bl3)" opacity="0.35"/>
<path d="M1617.4 1067.5 Q1660.2 1068.3 1703.0 1067.5 Q1711.0 1067.5 1711.0 1083.0 Q1711.0 1098.5 1703.0 1098.5 Q1660.2 1097.7 1617.4 1098.5 Q1609.4 1098.5 1609.4 1083.0 Q1609.4 1067.5 1617.4 1067.5 Z" fill="#000" filter="url(#bl1)" opacity="1"/>
<defs><linearGradient id="s5dp" x1="0" x2="1"><stop offset="0" stop-color="#555"/><stop offset="0.5" stop-color="#999"/><stop offset="1" stop-color="#777"/></linearGradient></defs>
<path d="M1735.5 1049.9 Q1773.7 1050.8 1811.8 1049.9 Q1816.3 1049.9 1816.3 1054.4 Q1816.3 1058.9 1811.8 1058.9 Q1773.7 1058.0 1735.5 1058.9 Q1731.0 1058.9 1731.0 1054.4 Q1731.0 1049.9 1735.5 1049.9 Z" fill="url(#s5dp)" filter="url(#bl3)" opacity="0.95"/>
<path d="M1618.0 1150.0 Q1658.5 1150.0 1699.0 1150.0 Q1705.0 1150.0 1705.0 1156.0 Q1705.0 1162.0 1699.0 1162.0 Q1658.5 1162.0 1618.0 1162.0 Q1612.0 1162.0 1612.0 1156.0 Q1612.0 1150.0 1618.0 1150.0 Z" fill="#aaa" filter="url(#bl3)" opacity="0.45"/>
<path d="M1514.0 1150.3 Q1549.5 1151.5 1585.0 1150.3 Q1593.0 1150.3 1593.0 1162.3 Q1593.0 1174.3 1585.0 1174.3 Q1549.5 1173.1 1514.0 1174.3 Q1506.0 1174.3 1506.0 1162.3 Q1506.0 1150.3 1514.0 1150.3 Z" fill="#000" filter="url(#bl1)" opacity="1"/>
<path d="M1514.0 1176.2 Q1549.5 1176.5 1585.0 1176.2 Q1592.0 1176.2 1592.0 1183.2 Q1592.0 1190.2 1585.0 1190.2 Q1549.5 1189.9 1514.0 1190.2 Q1507.0 1190.2 1507.0 1183.2 Q1507.0 1176.2 1514.0 1176.2 Z" fill="#1a1a1a" filter="url(#bl1)" opacity="1"/>
<path d="M1617.4 1173.5 Q1655.7 1175.1 1694.0 1173.5 Q1702.0 1173.5 1702.0 1184.7 Q1702.0 1196.0 1694.0 1196.0 Q1655.7 1194.3 1617.4 1196.0 Q1609.4 1196.0 1609.4 1184.7 Q1609.4 1173.5 1617.4 1173.5 Z" fill="#000" filter="url(#bl1)" opacity="1"/>
<path d="M1730.0 1150.4 Q1769.5 1151.6 1809.0 1150.4 Q1817.0 1150.4 1817.0 1162.4 Q1817.0 1174.4 1809.0 1174.4 Q1769.5 1173.2 1730.0 1174.4 Q1722.0 1174.4 1722.0 1162.4 Q1722.0 1150.4 1730.0 1150.4 Z" fill="#000" filter="url(#bl1)" opacity="1"/>
<path d="M1511.0 1190.0 Q1549.5 1190.0 1588.0 1190.0 Q1593.0 1190.0 1593.0 1195.0 Q1593.0 1200.0 1588.0 1200.0 Q1549.5 1200.0 1511.0 1200.0 Q1506.0 1200.0 1506.0 1195.0 Q1506.0 1190.0 1511.0 1190.0 Z" fill="#bbb" filter="url(#bl3)" opacity="0.5"/>
<path d="M1614.4 1195.0 Q1655.7 1195.0 1697.0 1195.0 Q1702.0 1195.0 1702.0 1200.0 Q1702.0 1205.0 1697.0 1205.0 Q1655.7 1205.0 1614.4 1205.0 Q1609.4 1205.0 1609.4 1200.0 Q1609.4 1195.0 1614.4 1195.0 Z" fill="#bbb" filter="url(#bl3)" opacity="0.5"/>
<rect x="1392.3" y="923.3" width="445.1" height="87.3" fill="none" stroke="#000" stroke-width="2.8"/>
<rect x="1392.3" y="1022.4" width="445.1" height="90.5" fill="none" stroke="#000" stroke-width="2.8"/>
<rect x="1392.3" y="1122.3" width="445.1" height="89.7" fill="none" stroke="#000" stroke-width="2.8"/>
<text x="1337.31" y="953.30" font-size="28.03" font-weight="bold" fill="#000" textLength="29.41" lengthAdjust="spacingAndGlyphs">75</text>
<rect x="1371.3" y="940.1" width="20" height="4" fill="#000"/>
<text x="1337.31" y="1043.60" font-size="28.03" font-weight="bold" fill="#000" textLength="29.41" lengthAdjust="spacingAndGlyphs">75</text>
<rect x="1371.3" y="1033.2" width="20" height="4" fill="#000"/>
<text x="1337.31" y="1140.80" font-size="28.03" font-weight="bold" fill="#000" textLength="29.41" lengthAdjust="spacingAndGlyphs">75</text>
<rect x="1371.3" y="1131.6" width="20" height="4" fill="#000"/>
<rect x="1837" y="955.5" width="16.3" height="4" fill="#000"/>
<rect x="1837" y="974.2" width="16.3" height="4" fill="#000"/>
<rect x="1837" y="1053.5" width="16.3" height="4" fill="#000"/>
<rect x="1837" y="1073.5" width="16.3" height="4" fill="#000"/>
<rect x="1837" y="1155.9" width="16.3" height="4" fill="#000"/>
<rect x="1837" y="1175.1" width="16.3" height="4" fill="#000"/>
<text x="1863.33" y="951.50" font-size="32.17" font-weight="bold" fill="#000" textLength="54.01" lengthAdjust="spacingAndGlyphs">P74</text>
<text x="1863.29" y="987.20" font-size="32.84" font-weight="bold" fill="#000" textLength="55.13" lengthAdjust="spacingAndGlyphs">P72</text>
<text x="1863.33" y="1052.60" font-size="32.17" font-weight="bold" fill="#000" textLength="54.01" lengthAdjust="spacingAndGlyphs">P74</text>
<text x="1863.29" y="1086.40" font-size="32.84" font-weight="bold" fill="#000" textLength="55.13" lengthAdjust="spacingAndGlyphs">P72</text>
<text x="1863.33" y="1155.40" font-size="32.17" font-weight="bold" fill="#000" textLength="54.01" lengthAdjust="spacingAndGlyphs">P74</text>
<text x="1863.29" y="1188.00" font-size="32.84" font-weight="bold" fill="#000" textLength="55.13" lengthAdjust="spacingAndGlyphs">P72</text>
<text x="1950.99" y="1078.00" font-size="37.39" font-weight="bold" fill="#000" textLength="56.96" lengthAdjust="spacingAndGlyphs">α-P</text>
<text x="4.03" y="1288.50" font-size="70.00" font-weight="bold" fill="#000" textLength="55.77" lengthAdjust="spacingAndGlyphs">G</text>
<text x="437.31" y="1341.50" font-size="35.57" font-weight="bold" fill="#000" textLength="106.16" lengthAdjust="spacingAndGlyphs">GFP-P</text>
<rect x="320.9" y="1352" width="338.1" height="5.6" fill="#000"/>
<text x="153.79" y="1406.20" font-size="34.90" font-weight="bold" fill="#000" textLength="63.05" lengthAdjust="spacingAndGlyphs">kDa</text>
<text x="340.20" y="1406.20" font-size="35.80" font-weight="bold" fill="#000" textLength="54.24" lengthAdjust="spacingAndGlyphs">WT</text>
<text x="455.25" y="1406.80" font-size="37.57" font-weight="bold" fill="#000" textLength="68.35" lengthAdjust="spacingAndGlyphs">S5A</text>
<text x="578.33" y="1406.80" font-size="37.57" font-weight="bold" fill="#000" textLength="69.41" lengthAdjust="spacingAndGlyphs">S5D</text>
<text x="155.79" y="1498.50" font-size="36.81" font-weight="bold" fill="#000" textLength="39.68" lengthAdjust="spacingAndGlyphs">75</text>
<text x="158.59" y="1646.40" font-size="36.71" font-weight="bold" fill="#000" textLength="38.35" lengthAdjust="spacingAndGlyphs">65</text>
<rect x="204.4" y="1477.9" width="51.5" height="4.8" fill="#000"/>
<rect x="204.4" y="1626.1" width="51.5" height="4.8" fill="#000"/>
<defs>
<filter id="gb" x="-30%" y="-100%" width="160%" height="300%"><feGaussianBlur stdDeviation="3.2"/></filter>
<filter id="gb2" x="-30%" y="-100%" width="160%" height="300%"><feGaussianBlur stdDeviation="5"/></filter>
<linearGradient id="gelbg" x1="0" x2="1" y1="0" y2="1"><stop offset="0" stop-color="#7fcbf4"/><stop offset="0.5" stop-color="#77c6f2"/><stop offset="1" stop-color="#72c2f0"/></linearGradient>
</defs>
<rect x="256.7" y="1428.8" width="455.4" height="214.6" fill="url(#gelbg)"/>
<rect x="300" y="1432" width="118" height="208" fill="#5fb8ee" opacity="0.18" filter="url(#gb2)"/>
<rect x="428" y="1432" width="120" height="208" fill="#5fb8ee" opacity="0.18" filter="url(#gb2)"/>
<rect x="566" y="1432" width="122" height="208" fill="#5fb8ee" opacity="0.18" filter="url(#gb2)"/>
<rect x="309" y="1525.5" width="101.0" height="24" rx="12.0" fill="#0a84ea" opacity="1" filter="url(#gb)"/>
<rect x="438" y="1525.5" width="101.0" height="24" rx="12.0" fill="#0a84ea" opacity="1" filter="url(#gb)"/>
<rect x="573" y="1506.0" width="106.0" height="21" rx="10.5" fill="#0a84ea" opacity="1" filter="url(#gb)"/>
<rect x="576" y="1558.0" width="96.0" height="10" rx="5.0" fill="#3a9ff0" opacity="0.8" filter="url(#gb)"/>
<rect x="312" y="1531.0" width="96.0" height="14" rx="7.0" fill="#0078e0" opacity="0.9" filter="url(#gb)"/>
<rect x="441" y="1531.0" width="96.0" height="14" rx="7.0" fill="#0078e0" opacity="0.9" filter="url(#gb)"/>
<rect x="576" y="1510.0" width="100.0" height="12" rx="6.0" fill="#0078e0" opacity="0.9" filter="url(#gb)"/>
<rect x="256.7" y="1428.8" width="455.4" height="214.6" fill="none" stroke="#000" stroke-width="3.2"/>
<text x="946.23" y="1277.50" font-size="73.62" font-weight="bold" fill="#000" textLength="49.70" lengthAdjust="spacingAndGlyphs">H</text>
<text x="1380.10" y="1295.00" font-size="34.34" font-weight="bold" fill="#000" textLength="74.87" lengthAdjust="spacingAndGlyphs">Nacl</text>
<text x="1466.18" y="1295.00" font-size="35.29" font-weight="bold" fill="#000" textLength="57.01" lengthAdjust="spacingAndGlyphs">150</text>
<text x="1535.37" y="1295.00" font-size="35.80" font-weight="bold" fill="#000" textLength="61.63" lengthAdjust="spacingAndGlyphs">mM</text>
<rect x="1012.8" y="1309.8" width="974" height="5" fill="#000"/>
<text x="1099.53" y="1360.70" font-size="36.43" font-weight="bold" fill="#000" textLength="104.42" lengthAdjust="spacingAndGlyphs">GFP-P</text>
<text x="1206.30" y="1350.20" font-size="25.07" font-weight="bold" fill="#000" textLength="36.73" lengthAdjust="spacingAndGlyphs">WT</text>
<text x="1437.42" y="1360.70" font-size="36.43" font-weight="bold" fill="#000" textLength="105.75" lengthAdjust="spacingAndGlyphs">GFP-P</text>
<text x="1544.70" y="1350.20" font-size="24.71" font-weight="bold" fill="#000" textLength="45.39" lengthAdjust="spacingAndGlyphs">S5A</text>
<text x="1760.02" y="1360.70" font-size="36.43" font-weight="bold" fill="#000" textLength="105.44" lengthAdjust="spacingAndGlyphs">GFP-P</text>
<text x="1867.28" y="1350.20" font-size="24.71" font-weight="bold" fill="#000" textLength="46.79" lengthAdjust="spacingAndGlyphs">S5D</text>
<text transform="translate(953.20 1561.50) rotate(-90)" x="-1.38" y="0" font-size="36.23" font-weight="bold" fill="#000" textLength="70.73" lengthAdjust="spacingAndGlyphs">GFP</text>
<rect x="978.4" y="1373.5" width="339.9" height="291.9" fill="#000"/>
<rect x="1332" y="1373.5" width="341" height="291.9" fill="#000"/>
<rect x="1682.8" y="1373.5" width="340.5" height="291.9" fill="#031203"/>
<defs><clipPath id="ch1"><rect x="978.4" y="1373.5" width="339.9" height="291.9"/></clipPath><clipPath id="ch2"><rect x="1332" y="1373.5" width="341" height="291.9"/></clipPath><filter id="dg" x="-100%" y="-100%" width="300%" height="300%"><feGaussianBlur stdDeviation="0.8"/></filter></defs>
<g clip-path="url(#ch1)" fill="#22ee22" filter="url(#dg)">
<circle cx="1034.6" cy="1376.2" r="3.3"/>
<circle cx="999.1" cy="1419.9" r="3.3"/>
<circle cx="1126.3" cy="1413.3" r="5"/>
<circle cx="1078.2" cy="1443.9" r="4.5"/>
<circle cx="1083.7" cy="1441.7" r="3.3"/>
<circle cx="1023.7" cy="1455.9" r="3.3"/>
<circle cx="1191.7" cy="1436.3" r="3.3"/>
<circle cx="1142.1" cy="1468.5" r="4.5"/>
<circle cx="1202.1" cy="1473.9" r="4.5"/>
<circle cx="1016.6" cy="1479.9" r="3.3"/>
<circle cx="1149.2" cy="1490.8" r="3.3"/>
<circle cx="1262.7" cy="1485.4" r="3.3"/>
<circle cx="1267.0" cy="1495.2" r="3.3"/>
<circle cx="1291.1" cy="1502.3" r="4.5"/>
<circle cx="1017.1" cy="1522.5" r="4.5"/>
<circle cx="1109.9" cy="1550.3" r="4.5"/>
<circle cx="1132.8" cy="1553.6" r="3.3"/>
<circle cx="1137.2" cy="1555.8" r="3.3"/>
<circle cx="1063.0" cy="1561.8" r="4.5"/>
<circle cx="1245.8" cy="1538.3" r="3.3"/>
<circle cx="998.0" cy="1578.1" r="5"/>
<circle cx="1049.9" cy="1593.4" r="4.5"/>
<circle cx="1081.0" cy="1620.2" r="4"/>
<circle cx="1061.9" cy="1630.0" r="3.3"/>
<circle cx="1063.0" cy="1640.3" r="3.3"/>
<circle cx="1152.5" cy="1644.7" r="3.3"/>
<circle cx="1196.7" cy="1659.4" r="3.3"/>
<circle cx="1312.9" cy="1388.8" r="4"/>
<circle cx="1293.8" cy="1428.6" r="3.3"/>
<circle cx="1294.9" cy="1466.8" r="3.3"/>
<circle cx="1189.0" cy="1417.2" r="3.3"/>
<circle cx="1250.1" cy="1555.8" r="3.3"/>
<circle cx="986.6" cy="1618.5" r="3.3"/>
</g>
<g clip-path="url(#ch2)" fill="#22ee22" filter="url(#dg)">
<circle cx="1393.6" cy="1376.2" r="3.6"/>
<circle cx="1405.6" cy="1387.7" r="3.6"/>
<circle cx="1424.7" cy="1392.6" r="7"/>
<circle cx="1493.0" cy="1405.7" r="6"/>
<circle cx="1524.6" cy="1403.5" r="5.5"/>
<circle cx="1634.8" cy="1410.6" r="3.6"/>
<circle cx="1632.1" cy="1436.8" r="5"/>
<circle cx="1384.9" cy="1427.5" r="3.6"/>
<circle cx="1377.3" cy="1442.3" r="6.5"/>
<circle cx="1411.1" cy="1452.1" r="6"/>
<circle cx="1529.0" cy="1456.5" r="5.5"/>
<circle cx="1431.8" cy="1483.2" r="3.6"/>
<circle cx="1482.0" cy="1500.7" r="3.6"/>
<circle cx="1586.3" cy="1488.1" r="3.6"/>
<circle cx="1655.6" cy="1500.1" r="3.6"/>
<circle cx="1351.1" cy="1537.8" r="6.5"/>
<circle cx="1511.0" cy="1548.1" r="4.5"/>
<circle cx="1532.2" cy="1551.9" r="5"/>
<circle cx="1501.7" cy="1545.9" r="3.6"/>
<circle cx="1597.7" cy="1574.9" r="6.5"/>
<circle cx="1651.2" cy="1571.0" r="3.6"/>
<circle cx="1360.4" cy="1586.3" r="6"/>
<circle cx="1530.6" cy="1610.9" r="3.6"/>
<circle cx="1375.1" cy="1621.8" r="6.5"/>
<circle cx="1425.8" cy="1630.0" r="5.5"/>
<circle cx="1457.5" cy="1647.4" r="7"/>
<circle cx="1470.0" cy="1645.8" r="3.6"/>
<circle cx="1639.2" cy="1628.3" r="3.6"/>
<circle cx="1623.9" cy="1662.7" r="5"/>
</g>
<rect x="1231" y="1650.2" width="76.4" height="5.4" fill="#fff"/>
<rect x="1588.4" y="1651.8" width="75.4" height="5.5" fill="#fff"/>
<rect x="1937.7" y="1648.5" width="75.3" height="5.5" fill="#fff"/>
</svg></body></html>
